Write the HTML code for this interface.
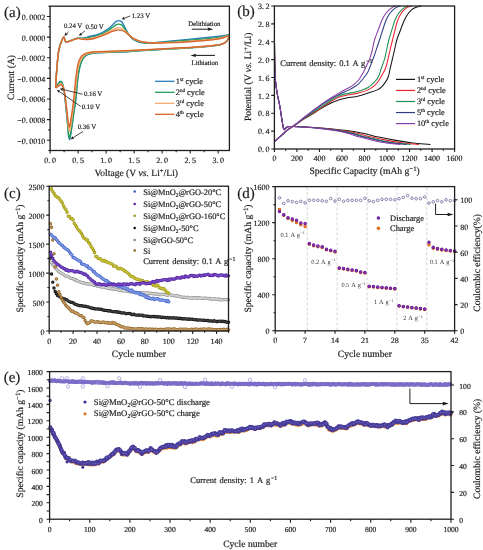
<!DOCTYPE html>
<html><head><meta charset="utf-8"><style>
html,body{margin:0;padding:0;background:#fff;}
svg{display:block;will-change:transform;text-rendering:geometricPrecision;font-family:"Liberation Serif", serif;}
</style></head><body>
<svg width="483" height="550" viewBox="0 0 483 550">
<rect width="483" height="550" fill="#fff"/>
<text x="4" y="16.7" font-size="15" text-anchor="start" fill="#1c1c1c" stroke="#1c1c1c" stroke-width="0.18" >(a)</text>
<g fill="none" stroke-width="1.4" stroke-linejoin="round">
<path d="M55.6 88 C55.83 84 56.02 80.08 56.3 76 C56.59 71.75 56.91 67.15 57.3 63 C57.66 59.18 57.96 55.17 58.5 52 C58.92 49.54 59.43 47.45 60 45.5 C60.48 43.85 61.05 42.34 61.6 41 C62.06 39.89 62.56 38.71 63 38 C63.28 37.56 63.57 36.96 63.8 37 C64.09 37.04 64.25 38.14 64.5 38.8 C64.81 39.61 64.97 40.99 65.5 41.5 C65.89 41.88 66.42 42.02 67 42 C67.83 41.98 68.93 41.22 70 40.8 C71.24 40.32 72.76 39.76 74 39.3 C75.07 38.9 76.16 38.41 77 38.2 C77.58 38.06 77.96 38.01 78.5 38 C79.12 37.99 79.74 38.18 80.5 38.2 C81.5 38.22 82.69 38.22 84 38 C85.75 37.71 88.08 36.78 90 36.3 C91.74 35.86 93.35 35.65 95 35.2 C96.65 34.75 98.36 34.24 99.9 33.6 C101.35 33 102.61 32.29 104 31.5 C105.51 30.64 107.13 29.73 108.6 28.6 C110.14 27.41 111.68 25.75 113 24.5 C114.1 23.46 114.97 22.26 116 21.6 C116.84 21.06 117.71 20.62 118.6 20.6 C119.54 20.58 120.62 20.89 121.5 21.6 C122.77 22.62 123.7 25.05 124.8 27 C126.04 29.21 127.14 32.16 128.5 34.2 C129.64 35.92 130.85 37.47 132.2 38.6 C133.38 39.59 134.72 40.17 136 40.8 C137.22 41.4 138.33 41.94 139.7 42.3 C141.28 42.72 143.26 42.87 145 43 C146.69 43.13 148.05 43.17 150 43.1 C152.76 43 156.33 42.56 160 42.2 C164.5 41.76 169.77 41.13 175 40.6 C180.73 40.02 187.09 39.46 193 38.9 C198.75 38.36 204.83 37.82 210 37.3 C214.35 36.86 218.54 36.39 222 36 C224.65 35.71 228.25 34.32 229 35.2 C229.6 35.9 228.48 38.23 227.8 39.5 C227.13 40.75 226.2 41.94 225 42.8 C223.66 43.76 221.99 44.27 220 44.8 C217.27 45.52 213.78 45.78 210 46.2 C205.09 46.75 199.1 47.18 193 47.6 C185.91 48.09 177.3 48.48 170 48.9 C163.36 49.28 157.49 49.58 151 50 C144.17 50.44 136.92 51.11 130 51.5 C123.25 51.88 116.07 52.05 110 52.3 C104.92 52.51 99.02 52.65 96 52.9 C94.55 53.02 93.94 53.08 92.8 53.3 C91.46 53.55 89.82 53.87 88.5 54.4 C87.27 54.89 86.08 55.46 85.1 56.3 C84.1 57.15 83.31 58.29 82.6 59.5 C81.82 60.83 81.26 62.31 80.7 64 C80.02 66.05 79.47 68.64 79 71 C78.53 73.37 78.23 75.61 77.9 78.2 C77.52 81.21 77.23 84.57 76.9 88 C76.53 91.8 76.28 96.01 75.8 100 C75.32 104.01 74.58 108 74 112 C73.42 116 72.86 120.18 72.3 124 C71.79 127.49 71.32 131.17 70.8 134 C70.41 136.11 69.99 139.48 69.6 139.5 C69.33 139.51 69.03 138.11 68.8 137 C68.37 134.94 68.21 131.22 67.9 128 C67.54 124.29 67.18 120 66.8 116 C66.42 112 66.01 107.91 65.6 104 C65.21 100.25 64.89 96.31 64.4 93 C63.99 90.25 63.64 87.61 63 85.5 C62.5 83.87 61.97 81.66 61.2 81.3 C60.73 81.08 60.09 81.43 59.6 81.8 C58.92 82.31 58.42 83.54 57.8 84.5 C57.1 85.59 56.33 86.83 55.6 88" stroke="#2b7fc0"/>
<path d="M55.6 88 C55.83 84 56.02 80.08 56.3 76 C56.59 71.75 56.91 67.15 57.3 63 C57.66 59.18 57.96 55.17 58.5 52 C58.92 49.54 59.43 47.45 60 45.5 C60.48 43.85 61.05 42.34 61.6 41 C62.06 39.89 62.56 38.71 63 38 C63.28 37.56 63.57 36.96 63.8 37 C64.09 37.04 64.25 38.14 64.5 38.8 C64.81 39.61 64.97 40.99 65.5 41.5 C65.89 41.88 66.42 42.01 67 42 C67.83 41.98 68.93 41.27 70 40.88 C71.24 40.42 72.76 39.86 74 39.41 C75.07 39.03 76.16 38.55 77 38.35 C77.58 38.21 77.96 38.15 78.5 38.15 C79.12 38.16 79.74 38.4 80.5 38.47 C81.5 38.55 82.68 38.64 84 38.53 C85.74 38.39 88.09 37.78 90 37.4 C91.74 37.05 93.35 36.78 95 36.34 C96.65 35.9 98.36 35.39 99.9 34.78 C101.35 34.21 102.61 33.55 104 32.83 C105.5 32.06 107.11 31.23 108.6 30.27 C110.11 29.3 111.67 28.01 113 27.05 C114.09 26.25 114.99 25.36 116 24.87 C116.86 24.45 117.71 24.14 118.6 24.13 C119.54 24.13 120.58 24.36 121.5 24.94 C122.69 25.7 123.71 27.35 124.8 28.79 C126.05 30.44 127.19 32.72 128.5 34.35 C129.67 35.82 130.88 37.19 132.2 38.22 C133.39 39.15 134.72 39.77 136 40.38 C137.22 40.97 138.33 41.47 139.7 41.84 C141.29 42.28 143.25 42.51 145 42.7 C146.69 42.87 148.05 42.94 150 42.95 C152.76 42.96 156.33 42.73 160 42.5 C164.5 42.23 169.77 41.77 175 41.36 C180.73 40.91 187.09 40.4 193 39.89 C198.75 39.39 204.83 38.88 210 38.33 C214.35 37.86 218.55 37.44 222 36.87 C224.66 36.44 228.28 34.64 229 35.43 C229.56 36.03 228.46 38.28 227.8 39.5 C227.13 40.73 226.2 41.92 225 42.78 C223.66 43.74 221.99 44.25 220 44.78 C217.27 45.5 213.78 45.74 210 46.16 C205.09 46.7 199.1 47.14 193 47.56 C185.91 48.05 177.3 48.44 170 48.85 C163.36 49.23 157.49 49.53 151 49.94 C144.17 50.37 136.92 51.01 130 51.39 C123.25 51.76 116.07 51.95 110 52.2 C104.92 52.41 99.02 52.55 96 52.79 C94.55 52.91 93.94 52.96 92.8 53.17 C91.47 53.41 89.82 53.72 88.5 54.22 C87.27 54.69 86.08 55.23 85.1 56.03 C84.11 56.84 83.31 57.92 82.6 59.08 C81.82 60.34 81.26 61.74 80.7 63.35 C80.01 65.31 79.44 67.79 78.96 70.08 C78.47 72.41 78.17 74.65 77.83 77.22 C77.43 80.22 77.13 83.59 76.79 87.02 C76.42 90.79 76.16 94.95 75.69 98.91 C75.22 102.88 74.53 106.84 73.96 110.8 C73.4 114.74 72.85 118.84 72.3 122.6 C71.8 126.05 71.33 129.68 70.82 132.5 C70.44 134.62 70.05 138.02 69.64 138.05 C69.39 138.07 69.08 136.95 68.86 136.02 C68.42 134.2 68.28 130.7 67.98 127.7 C67.63 124.18 67.27 120.06 66.89 116.2 C66.51 112.29 66.11 108.25 65.7 104.4 C65.31 100.69 64.98 96.78 64.5 93.5 C64.1 90.77 63.75 88.16 63.12 86.05 C62.63 84.41 62.14 82.25 61.36 81.82 C60.9 81.57 60.25 81.79 59.76 82.1 C59.09 82.52 58.59 83.69 57.98 84.58 C57.29 85.59 56.54 86.76 55.82 87.85" stroke="#1f9e5a"/>
<path d="M55.6 88 C55.83 84 56.02 80.08 56.3 76 C56.59 71.75 56.91 67.15 57.3 63 C57.66 59.18 57.96 55.17 58.5 52 C58.92 49.54 59.43 47.45 60 45.5 C60.48 43.85 61.05 42.34 61.6 41 C62.06 39.89 62.56 38.71 63 38 C63.28 37.56 63.57 36.96 63.8 37 C64.09 37.04 64.25 38.14 64.5 38.8 C64.81 39.61 64.97 40.99 65.5 41.5 C65.89 41.88 66.42 42 67 42 C67.83 41.99 68.93 41.33 70 40.95 C71.24 40.52 72.76 39.96 74 39.53 C75.07 39.15 76.16 38.7 77 38.5 C77.58 38.37 77.97 38.28 78.5 38.3 C79.12 38.33 79.74 38.61 80.5 38.73 C81.5 38.89 82.68 39.06 84 39.06 C85.73 39.07 88.1 38.79 90 38.5 C91.75 38.24 93.35 37.9 95 37.48 C96.65 37.05 98.35 36.53 99.9 35.96 C101.34 35.42 102.6 34.8 104 34.16 C105.5 33.47 107.09 32.71 108.6 31.94 C110.09 31.19 111.67 30.27 113 29.59 C114.09 29.04 115.01 28.46 116 28.14 C116.88 27.85 117.71 27.65 118.6 27.67 C119.54 27.68 120.54 27.87 121.5 28.29 C122.61 28.77 123.72 29.64 124.8 30.57 C126.06 31.65 127.24 33.27 128.5 34.5 C129.71 35.69 130.9 36.91 132.2 37.84 C133.41 38.71 134.72 39.36 136 39.96 C137.22 40.54 138.34 41 139.7 41.39 C141.29 41.84 143.25 42.16 145 42.39 C146.68 42.62 148.05 42.72 150 42.8 C152.76 42.91 156.33 42.89 160 42.81 C164.5 42.71 169.77 42.42 175 42.12 C180.73 41.79 187.09 41.35 193 40.88 C198.75 40.42 204.83 39.93 210 39.35 C214.35 38.87 218.56 38.49 222 37.75 C224.67 37.17 228.32 34.96 229 35.66 C229.51 36.17 228.45 38.34 227.8 39.5 C227.13 40.69 226.19 41.84 225 42.68 C223.66 43.63 221.99 44.16 220 44.68 C217.27 45.39 213.78 45.56 210 45.96 C205.09 46.48 199.1 46.94 193 47.36 C185.91 47.84 177.3 48.2 170 48.6 C163.36 48.96 157.49 49.28 151 49.64 C144.17 50.02 136.92 50.49 130 50.84 C123.25 51.18 116.07 51.45 110 51.7 C104.92 51.91 99.02 52.05 96 52.24 C94.56 52.33 93.94 52.36 92.8 52.52 C91.47 52.7 89.83 52.93 88.5 53.32 C87.28 53.67 86.1 54.05 85.1 54.68 C84.14 55.28 83.32 56.1 82.6 56.98 C81.85 57.9 81.28 58.89 80.7 60.1 C79.97 61.62 79.28 63.56 78.76 65.48 C78.18 67.6 77.87 69.83 77.48 72.32 C77.02 75.29 76.62 78.73 76.24 82.12 C75.83 85.76 75.55 89.68 75.14 93.46 C74.73 97.24 74.24 101.07 73.76 104.8 C73.29 108.45 72.79 112.13 72.3 115.6 C71.84 118.84 71.38 122.25 70.92 125 C70.56 127.17 70.4 130.07 69.84 130.8 C69.64 131.06 69.35 131.22 69.16 131.12 C68.67 130.86 68.64 128.09 68.38 126.2 C68.03 123.65 67.69 120.34 67.34 117.2 C66.96 113.76 66.59 109.97 66.2 106.4 C65.81 102.9 65.46 99.14 65 96 C64.62 93.37 64.27 90.88 63.72 88.8 C63.28 87.14 62.89 85.25 62.16 84.42 C61.71 83.9 61.08 83.54 60.56 83.6 C59.99 83.66 59.44 84.45 58.88 84.98 C58.23 85.59 57.57 86.39 56.92 87.1" stroke="#f6ab74"/>
<path d="M55.6 88 C55.83 84 56.02 80.08 56.3 76 C56.59 71.75 56.91 67.15 57.3 63 C57.66 59.18 57.96 55.17 58.5 52 C58.92 49.54 59.43 47.45 60 45.5 C60.48 43.85 61.05 42.34 61.6 41 C62.06 39.89 62.56 38.71 63 38 C63.28 37.56 63.57 36.96 63.8 37 C64.09 37.04 64.25 38.14 64.5 38.8 C64.81 39.61 64.97 40.99 65.5 41.5 C65.89 41.88 66.41 42 67 42 C67.83 42 68.93 41.37 70 41 C71.24 40.58 72.76 40.02 74 39.6 C75.07 39.23 76.16 38.79 77 38.6 C77.58 38.47 77.97 38.37 78.5 38.4 C79.12 38.43 79.74 38.75 80.5 38.9 C81.5 39.1 82.67 39.33 84 39.4 C85.73 39.49 88.1 39.42 90 39.2 C91.75 39 93.35 38.62 95 38.2 C96.65 37.78 98.35 37.26 99.9 36.7 C101.34 36.18 102.6 35.6 104 35 C105.49 34.37 107.08 33.64 108.6 33 C110.08 32.38 111.67 31.69 113 31.2 C114.09 30.8 115.02 30.42 116 30.2 C116.89 30 117.71 29.88 118.6 29.9 C119.54 29.93 120.52 30.12 121.5 30.4 C122.58 30.7 123.71 31.08 124.8 31.7 C126.05 32.42 127.27 33.62 128.5 34.6 C129.74 35.59 130.92 36.74 132.2 37.6 C133.42 38.42 134.72 39.11 136 39.7 C137.22 40.27 138.34 40.7 139.7 41.1 C141.29 41.56 143.25 41.93 145 42.2 C146.68 42.46 148.04 42.57 150 42.7 C152.76 42.88 156.33 42.99 160 43 C164.49 43.01 169.77 42.83 175 42.6 C180.73 42.35 187.09 41.94 193 41.5 C198.75 41.07 204.83 40.59 210 40 C214.35 39.5 218.57 39.15 222 38.3 C224.68 37.64 228.34 35.16 229 35.8 C229.48 36.26 228.45 38.38 227.8 39.5 C227.13 40.66 226.18 41.78 225 42.6 C223.66 43.54 221.99 44.09 220 44.6 C217.28 45.3 213.78 45.42 210 45.8 C205.08 46.3 199.1 46.79 193 47.2 C185.91 47.68 177.3 48.02 170 48.4 C163.36 48.75 157.49 49.07 151 49.4 C144.18 49.74 136.91 50.08 130 50.4 C123.25 50.71 116.07 51.05 110 51.3 C104.92 51.51 99.02 51.65 96 51.8 C94.56 51.87 93.94 51.88 92.8 52 C91.47 52.13 89.84 52.31 88.5 52.6 C87.29 52.86 86.11 53.12 85.1 53.6 C84.16 54.04 83.34 54.64 82.6 55.3 C81.88 55.95 81.29 56.6 80.7 57.5 C79.94 58.66 79.16 60.17 78.6 61.8 C77.94 63.73 77.63 65.98 77.2 68.4 C76.68 71.34 76.21 74.84 75.8 78.2 C75.37 81.73 75.07 85.47 74.7 89.1 C74.33 92.73 74.01 96.45 73.6 100 C73.21 103.41 72.75 106.76 72.3 110 C71.88 113.08 71.42 116.31 71 119 C70.66 121.2 70.33 123.5 70 125 C69.8 125.92 69.62 127.2 69.4 127.2 C69.18 127.2 68.92 125.95 68.7 125 C68.32 123.33 68.02 120.54 67.7 118 C67.32 114.97 66.98 111.33 66.6 108 C66.22 104.67 65.84 101.03 65.4 98 C65.03 95.45 64.7 93.06 64.2 91 C63.8 89.32 63.44 87.59 62.8 86.5 C62.35 85.73 61.79 84.95 61.2 84.8 C60.7 84.67 60.13 85.05 59.6 85.3 C59 85.59 58.43 86.08 57.8 86.5 C57.1 86.97 56.33 87.5 55.6 88" stroke="#d8662c"/>
</g>
<rect x="50.1" y="6.2" width="179.3" height="144.3" fill="none" stroke="#1e1e1e" stroke-width="1.3"/>
<path d="M50.1 150.5L50.1 153.5M64.11 150.5L64.11 152.3M78.12 150.5L78.12 153.5M92.12 150.5L92.12 152.3M106.13 150.5L106.13 153.5M120.14 150.5L120.14 152.3M134.15 150.5L134.15 153.5M148.15 150.5L148.15 152.3M162.16 150.5L162.16 153.5M176.17 150.5L176.17 152.3M190.18 150.5L190.18 153.5M204.19 150.5L204.19 152.3M218.19 150.5L218.19 153.5M50.1 150.5L48.3 150.5M50.1 140.19L46.9 140.19M50.1 129.89L48.3 129.89M50.1 119.58L46.9 119.58M50.1 109.27L48.3 109.27M50.1 98.96L46.9 98.96M50.1 88.66L48.3 88.66M50.1 78.35L46.9 78.35M50.1 68.04L48.3 68.04M50.1 57.74L46.9 57.74M50.1 47.43L48.3 47.43M50.1 37.12L46.9 37.12M50.1 26.81L48.3 26.81M50.1 16.51L46.9 16.51M50.1 6.2L48.3 6.2" stroke="#1e1e1e" stroke-width="1.1" fill="none"/>
<text x="50.1" y="162.5" font-size="8" text-anchor="middle" fill="#1c1c1c" stroke="#1c1c1c" stroke-width="0.18" >0.&#8201;0</text>
<text x="78.12" y="162.5" font-size="8" text-anchor="middle" fill="#1c1c1c" stroke="#1c1c1c" stroke-width="0.18" >0.&#8201;5</text>
<text x="106.13" y="162.5" font-size="8" text-anchor="middle" fill="#1c1c1c" stroke="#1c1c1c" stroke-width="0.18" >1.&#8201;0</text>
<text x="134.15" y="162.5" font-size="8" text-anchor="middle" fill="#1c1c1c" stroke="#1c1c1c" stroke-width="0.18" >1.&#8201;5</text>
<text x="162.16" y="162.5" font-size="8" text-anchor="middle" fill="#1c1c1c" stroke="#1c1c1c" stroke-width="0.18" >2.&#8201;0</text>
<text x="190.18" y="162.5" font-size="8" text-anchor="middle" fill="#1c1c1c" stroke="#1c1c1c" stroke-width="0.18" >2.&#8201;5</text>
<text x="218.19" y="162.5" font-size="8" text-anchor="middle" fill="#1c1c1c" stroke="#1c1c1c" stroke-width="0.18" >3.&#8201;0</text>
<text x="45.3" y="20.01" font-size="8" text-anchor="end" fill="#1c1c1c" stroke="#1c1c1c" stroke-width="0.18" >0.&#8201;0002</text>
<text x="45.3" y="40.62" font-size="8" text-anchor="end" fill="#1c1c1c" stroke="#1c1c1c" stroke-width="0.18" >0.&#8201;0000</text>
<text x="45.3" y="61.24" font-size="8" text-anchor="end" fill="#1c1c1c" stroke="#1c1c1c" stroke-width="0.18" >&#8722;0.&#8201;0002</text>
<text x="45.3" y="81.85" font-size="8" text-anchor="end" fill="#1c1c1c" stroke="#1c1c1c" stroke-width="0.18" >&#8722;0.&#8201;0004</text>
<text x="45.3" y="102.46" font-size="8" text-anchor="end" fill="#1c1c1c" stroke="#1c1c1c" stroke-width="0.18" >&#8722;0.&#8201;0006</text>
<text x="45.3" y="123.08" font-size="8" text-anchor="end" fill="#1c1c1c" stroke="#1c1c1c" stroke-width="0.18" >&#8722;0.&#8201;0008</text>
<text x="45.3" y="143.69" font-size="8" text-anchor="end" fill="#1c1c1c" stroke="#1c1c1c" stroke-width="0.18" >&#8722;0.&#8201;0010</text>
<text x="136.3" y="176.3" font-size="9.6" text-anchor="middle" fill="#1c1c1c" stroke="#1c1c1c" stroke-width="0.18" >Voltage (V <tspan font-style="italic">vs.</tspan> Li<tspan dy="-3" font-size="0.7em">+</tspan><tspan dy="3">/Li)</tspan></text>
<text x="0" y="0" font-size="9.6" text-anchor="middle" fill="#1c1c1c" stroke="#1c1c1c" stroke-width="0.18" transform="translate(13.8 77.5) rotate(-90)">Current (A)</text>
<text x="63.9" y="28" font-size="6.8" text-anchor="start" fill="#1c1c1c" stroke="#1c1c1c" stroke-width="0.18" >0.24 V</text>
<text x="85.4" y="28.9" font-size="6.8" text-anchor="start" fill="#1c1c1c" stroke="#1c1c1c" stroke-width="0.18" >0.50 V</text>
<text x="131.7" y="17.5" font-size="6.8" text-anchor="start" fill="#1c1c1c" stroke="#1c1c1c" stroke-width="0.18" >1.23 V</text>
<text x="83.9" y="96.1" font-size="6.8" text-anchor="start" fill="#1c1c1c" stroke="#1c1c1c" stroke-width="0.18" >0.16 V</text>
<text x="81.7" y="109.4" font-size="6.8" text-anchor="start" fill="#1c1c1c" stroke="#1c1c1c" stroke-width="0.18" >0.10 V</text>
<text x="77.7" y="129.2" font-size="6.8" text-anchor="start" fill="#1c1c1c" stroke="#1c1c1c" stroke-width="0.18" >0.36 V</text>
<text x="188.2" y="25.6" font-size="6.75" text-anchor="start" fill="#1c1c1c" stroke="#1c1c1c" stroke-width="0.18" >Delithiation</text>
<text x="191.6" y="64.8" font-size="6.75" text-anchor="start" fill="#1c1c1c" stroke="#1c1c1c" stroke-width="0.18" >Lithiation</text>
<path d="M68.5 31.9L66.64 33.62" stroke="#1e1e1e" stroke-width="0.8"/>
<path d="M64.3 35.8L65.62 32.52L67.67 34.72Z" fill="#1e1e1e"/>
<path d="M85 30.9L81.31 33.82" stroke="#1e1e1e" stroke-width="0.8"/>
<path d="M78.8 35.8L80.38 32.64L82.24 34.99Z" fill="#1e1e1e"/>
<path d="M130.4 15.9L124.5 18.09" stroke="#1e1e1e" stroke-width="0.8"/>
<path d="M121.5 19.2L123.98 16.68L125.02 19.49Z" fill="#1e1e1e"/>
<path d="M82.6 94.2L62.91 89.54" stroke="#1e1e1e" stroke-width="0.8"/>
<path d="M59.8 88.8L63.26 88.08L62.57 91Z" fill="#1e1e1e"/>
<path d="M80.8 106.5L59.43 91.63" stroke="#1e1e1e" stroke-width="0.8"/>
<path d="M56.8 89.8L60.28 90.4L58.57 92.86Z" fill="#1e1e1e"/>
<path d="M83 131.5L73.32 137.51" stroke="#1e1e1e" stroke-width="0.8"/>
<path d="M70.6 139.2L72.53 136.24L74.11 138.79Z" fill="#1e1e1e"/>
<path d="M191.8 29.2L207.8 29.2" stroke="#1e1e1e" stroke-width="1.05"/>
<path d="M213.3 29.2L207.8 30.8L207.8 27.6Z" fill="#1e1e1e"/>
<path d="M214.9 55.4L195.9 55.4" stroke="#1e1e1e" stroke-width="1.05"/>
<path d="M190.4 55.4L195.9 53.8L195.9 57Z" fill="#1e1e1e"/>
<path d="M155 81.3H174.5" stroke="#2b7fc0" stroke-width="1.3"/>
<text x="175.8" y="84" font-size="8.4" text-anchor="start" fill="#1c1c1c" stroke="#1c1c1c" stroke-width="0.18" >1<tspan dy="-3" font-size="5">st</tspan><tspan dy="3"> cycle</tspan></text>
<path d="M155 92.3H174.5" stroke="#1f9e5a" stroke-width="1.3"/>
<text x="175.8" y="95" font-size="8.4" text-anchor="start" fill="#1c1c1c" stroke="#1c1c1c" stroke-width="0.18" >2<tspan dy="-3" font-size="5">nd</tspan><tspan dy="3"> cycle</tspan></text>
<path d="M155 103.3H174.5" stroke="#f6ab74" stroke-width="1.3"/>
<text x="175.8" y="106" font-size="8.4" text-anchor="start" fill="#1c1c1c" stroke="#1c1c1c" stroke-width="0.18" >3<tspan dy="-3" font-size="5">rd</tspan><tspan dy="3"> cycle</tspan></text>
<path d="M155 114.3H174.5" stroke="#d8662c" stroke-width="1.3"/>
<text x="175.8" y="117" font-size="8.4" text-anchor="start" fill="#1c1c1c" stroke="#1c1c1c" stroke-width="0.18" >4<tspan dy="-3" font-size="5">th</tspan><tspan dy="3"> cycle</tspan></text>
<text x="237.3" y="16.1" font-size="15" text-anchor="start" fill="#1c1c1c" stroke="#1c1c1c" stroke-width="0.18" >(b)</text>
<g fill="none" stroke-width="1.05" stroke-linejoin="round" stroke-linecap="round">
<path d="M274.5 42.5 C274.57 48.33 274.56 53.97 274.7 60 C274.85 66.45 274.91 74.06 275.4 80 C275.8 84.81 276.37 88.66 277.1 93 C277.84 97.4 278.96 101.56 279.8 106.2 C280.73 111.34 281.57 118.19 282.4 122.5 C282.95 125.36 283.17 129.33 284 129.6 C284.45 129.75 285.02 128.66 285.6 128.2 C286.24 127.69 286.78 127 287.7 126.7 C289.02 126.26 290.73 126.58 293 126.6 C297.08 126.63 304.43 126.9 310.14 127.21 C315.85 127.52 321.57 127.96 327.27 128.46 C332.99 128.97 338.71 129.51 344.41 130.26 C350.13 131.01 355.86 131.83 361.55 132.96 C367.29 134.1 372.96 135.83 378.69 137.07 C384.39 138.31 390.1 139.42 395.83 140.39 C401.53 141.36 407.24 142.24 412.96 142.91 C418.67 143.58 424.39 143.9 430.1 144.4" stroke="#151515"/>
<path d="M274.6 141.5 C276.8 139.53 279 137.54 281.2 135.6 C283.37 133.68 285.46 131.6 287.7 129.9 C289.84 128.28 291.84 127.23 294.3 125.6 C297.44 123.52 301.35 120.73 305 118.4 C308.71 116.03 312.67 113.77 316.4 111.5 C320 109.31 323.21 106.94 327 105 C331.04 102.94 335.2 101.06 340 99.6 C345.57 97.91 353.47 97.17 358.6 95.9 C362.29 94.99 364.89 94.1 368 93.1 C371.12 92.1 374.81 91.18 377.3 89.9 C379.19 88.93 380.53 87.91 381.9 86.6 C383.31 85.25 384.54 83.5 385.6 81.9 C386.59 80.4 387.39 79.16 388.1 77.3 C389.06 74.77 389.56 71.02 390.3 67.9 C391.03 64.79 391.77 61.73 392.5 58.6 C393.24 55.43 393.97 52.15 394.7 49 C395.41 45.95 395.88 43.05 396.8 40 C397.78 36.72 399.25 33.29 400.5 30 C401.72 26.79 402.91 23.27 404.2 20.5 C405.26 18.23 406.29 16.27 407.5 14.5 C408.58 12.92 409.65 11.46 411 10.3 C412.32 9.17 413.88 8.31 415.5 7.6 C417.17 6.86 419.1 6.53 420.9 6" stroke="#151515"/>
<path d="M274.5 42.5 C274.57 48.33 274.56 53.97 274.7 60 C274.85 66.45 274.91 74.06 275.4 80 C275.8 84.81 276.37 88.66 277.1 93 C277.84 97.4 278.96 101.56 279.8 106.2 C280.73 111.34 281.57 118.19 282.4 122.5 C282.95 125.36 283.17 129.33 284 129.6 C284.45 129.75 285.02 128.66 285.6 128.2 C286.24 127.69 286.78 127 287.7 126.7 C289.02 126.26 290.77 126.58 293 126.6 C296.85 126.64 303.48 126.9 308.71 127.21 C313.95 127.52 319.19 127.96 324.43 128.46 C329.67 128.97 334.91 129.51 340.14 130.26 C345.39 131.01 350.64 131.83 355.85 132.96 C361.11 134.1 366.31 135.83 371.56 137.07 C376.79 138.31 382.03 139.42 387.27 140.39 C392.5 141.36 397.74 142.24 402.99 142.91 C408.21 143.57 413.46 143.9 418.7 144.4" stroke="#ee2230"/>
<path d="M274.6 141.5 C276.8 139.53 279 137.54 281.2 135.6 C283.37 133.68 285.47 131.61 287.7 129.9 C289.84 128.26 291.85 127.18 294.3 125.5 C297.45 123.35 301.34 120.4 305 118 C308.7 115.57 312.69 113.36 316.4 111 C320.02 108.7 323.24 106.28 327 104 C331.07 101.54 335.12 98.59 340 96.8 C345.51 94.78 353.48 94.47 358.6 93.1 C362.3 92.11 365.23 91.26 368 89.9 C370.45 88.7 372.68 87.19 374.5 85.6 C376.11 84.19 377.28 82.7 378.5 81 C379.8 79.19 380.85 77.09 382 75 C383.22 72.77 384.61 70.56 385.6 68 C386.7 65.15 387.32 61.76 388.1 58.6 C388.89 55.42 389.56 52.15 390.3 49 C391.02 45.95 391.74 43.08 392.5 40 C393.3 36.75 394.14 33.29 395 30 C395.84 26.79 396.56 23.26 397.6 20.5 C398.45 18.23 399.44 16.28 400.5 14.5 C401.43 12.93 402.36 11.48 403.5 10.3 C404.55 9.21 405.74 8.32 407 7.6 C408.24 6.89 409.67 6.53 411 6" stroke="#ee2230"/>
<path d="M274.5 42.5 C274.57 48.33 274.56 53.97 274.7 60 C274.85 66.45 274.91 74.06 275.4 80 C275.8 84.81 276.37 88.66 277.1 93 C277.84 97.4 278.96 101.56 279.8 106.2 C280.73 111.34 281.57 118.19 282.4 122.5 C282.95 125.36 283.17 129.33 284 129.6 C284.45 129.75 285.02 128.66 285.6 128.2 C286.24 127.69 286.78 127 287.7 126.7 C289.02 126.26 290.79 126.58 293 126.6 C296.67 126.64 302.79 126.9 307.68 127.21 C312.57 127.52 317.46 127.96 322.35 128.46 C327.25 128.97 332.14 129.51 337.02 130.26 C341.93 131.01 346.83 131.83 351.7 132.96 C356.62 134.1 361.47 135.83 366.38 137.07 C371.25 138.31 376.15 139.42 381.05 140.39 C385.93 141.36 390.82 142.24 395.72 142.91 C400.61 143.57 405.51 143.9 410.4 144.4" stroke="#1e9050"/>
<path d="M274.6 141.5 C276.8 139.53 279.01 137.56 281.2 135.6 C283.37 133.66 285.46 131.53 287.7 129.8 C289.84 128.15 291.86 127.11 294.3 125.4 C297.46 123.18 301.34 120.05 305 117.5 C308.71 114.92 312.67 112.46 316.4 110 C320 107.63 323.25 105.32 327 103 C331.08 100.48 335.12 97.42 340 95.5 C345.5 93.33 353.5 92.79 358.6 91.2 C362.31 90.05 365.51 88.95 368 87.5 C369.91 86.39 371.26 85.05 372.6 83.8 C373.78 82.71 374.75 81.61 375.7 80.5 C376.6 79.45 377.42 78.73 378.2 77.3 C379.41 75.08 380.32 71.11 381.4 68 C382.49 64.87 383.8 61.78 384.7 58.6 C385.6 55.44 386.11 52.15 386.8 49 C387.47 45.95 388 43.06 388.8 40 C389.65 36.74 390.79 33.29 391.8 30 C392.79 26.79 393.68 23.27 394.8 20.5 C395.72 18.23 396.68 16.27 397.8 14.5 C398.8 12.92 399.92 11.49 401.1 10.3 C402.17 9.23 403.32 8.33 404.5 7.6 C405.6 6.92 406.77 6.53 407.9 6" stroke="#1e9050"/>
<path d="M274.5 42.5 C274.57 48.33 274.56 53.97 274.7 60 C274.85 66.45 274.91 74.06 275.4 80 C275.8 84.81 276.37 88.66 277.1 93 C277.84 97.4 278.96 101.56 279.8 106.2 C280.73 111.34 281.57 118.19 282.4 122.5 C282.95 125.36 283.17 129.33 284 129.6 C284.45 129.75 285.02 128.66 285.6 128.2 C286.24 127.69 286.78 127 287.7 126.7 C289.02 126.26 290.81 126.57 293 126.6 C296.58 126.64 302.45 126.9 307.16 127.21 C311.89 127.52 316.61 127.96 321.32 128.46 C326.05 128.97 330.78 129.51 335.49 130.26 C340.22 131.01 344.96 131.83 349.65 132.96 C354.4 134.1 359.08 135.83 363.81 137.07 C368.52 138.3 373.24 139.42 377.98 140.39 C382.68 141.36 387.4 142.24 392.14 142.91 C396.85 143.57 401.58 143.9 406.3 144.4" stroke="#2d3d80"/>
<path d="M274.6 141.5 C276.8 139.53 279.01 137.56 281.2 135.6 C283.37 133.66 285.47 131.55 287.7 129.8 C289.84 128.13 291.87 127.07 294.3 125.3 C297.47 122.99 301.36 119.75 305 117 C308.72 114.19 312.65 111.27 316.4 108.6 C319.98 106.05 323.23 103.65 327 101.3 C331.06 98.77 335.98 96.01 340 94 C343.32 92.34 346.68 91.25 349.3 89.9 C351.32 88.86 352.89 87.86 354.5 86.8 C355.97 85.83 357.39 84.89 358.6 83.8 C359.74 82.78 360.65 81.6 361.6 80.5 C362.51 79.44 363.28 78.54 364.2 77.3 C365.38 75.71 366.85 73.87 368 71.7 C369.4 69.06 370.56 65.33 371.7 62.4 C372.71 59.8 373.64 57.44 374.5 55 C375.33 52.64 376 50.41 376.8 48 C377.66 45.42 378.57 42.82 379.5 40 C380.53 36.86 381.62 33.29 382.7 30 C383.75 26.79 384.73 23.27 385.9 20.5 C386.86 18.23 387.84 16.27 389 14.5 C390.03 12.92 391.17 11.48 392.4 10.3 C393.52 9.22 394.74 8.32 396 7.6 C397.21 6.91 398.53 6.53 399.8 6" stroke="#2d3d80"/>
<path d="M274.5 42.5 C274.57 48.33 274.56 53.97 274.7 60 C274.85 66.45 274.91 74.06 275.4 80 C275.8 84.81 276.37 88.66 277.1 93 C277.84 97.4 278.96 101.56 279.8 106.2 C280.73 111.34 281.57 118.19 282.4 122.5 C282.95 125.36 283.17 129.33 284 129.6 C284.45 129.75 285.02 128.66 285.6 128.2 C286.24 127.69 286.78 127 287.7 126.7 C289.02 126.26 290.83 126.57 293 126.6 C296.45 126.65 301.92 126.9 306.38 127.21 C310.84 127.52 315.3 127.96 319.75 128.46 C324.21 128.97 328.68 129.51 333.12 130.26 C337.6 131.01 342.07 131.84 346.5 132.96 C350.99 134.1 355.4 135.83 359.88 137.07 C364.32 138.3 368.78 139.42 373.25 140.39 C377.69 141.36 382.15 142.24 386.62 142.91 C391.07 143.57 395.54 143.9 400 144.4" stroke="#8a3da8"/>
<path d="M274.6 141.5 C276.8 139.53 279.01 137.57 281.2 135.6 C283.38 133.64 285.46 131.46 287.7 129.7 C289.83 128.02 291.87 127 294.3 125.2 C297.48 122.84 301.36 119.47 305 116.6 C308.73 113.67 312.64 110.56 316.4 107.8 C319.97 105.18 323.25 102.86 327 100.4 C331.08 97.73 335.99 94.68 340 92.4 C343.32 90.5 346.75 89.01 349.3 87.5 C351.16 86.4 352.49 85.6 354 84.4 C355.6 83.12 357.31 81.54 358.6 80 C359.77 78.6 360.58 77.13 361.5 75.6 C362.45 74.03 363.31 72.44 364.2 70.7 C365.18 68.77 366.15 66.54 367.1 64.5 C368.02 62.51 368.99 60.78 369.8 58.6 C370.75 56.03 371.54 52.99 372.3 50 C373.11 46.81 373.53 43.3 374.5 40 C375.49 36.63 376.97 33.29 378.2 30 C379.4 26.79 380.54 23.27 381.8 20.5 C382.83 18.23 383.79 16.26 385 14.5 C386.09 12.91 387.36 11.5 388.6 10.3 C389.7 9.24 390.81 8.33 392 7.6 C393.12 6.91 394.33 6.53 395.5 6" stroke="#8a3da8"/>
</g>
<rect x="274.4" y="6" width="180.2" height="143" fill="none" stroke="#1e1e1e" stroke-width="1.3"/>
<path d="M274.4 149L274.4 152M285.66 149L285.66 150.8M296.92 149L296.92 152M308.19 149L308.19 150.8M319.45 149L319.45 152M330.71 149L330.71 150.8M341.98 149L341.98 152M353.24 149L353.24 150.8M364.5 149L364.5 152M375.76 149L375.76 150.8M387.03 149L387.03 152M398.29 149L398.29 150.8M409.55 149L409.55 152M420.81 149L420.81 150.8M432.08 149L432.08 152M443.34 149L443.34 150.8M454.6 149L454.6 152M274.4 149L271.2 149M274.4 131.12L271.2 131.12M274.4 113.25L271.2 113.25M274.4 95.38L271.2 95.38M274.4 77.5L271.2 77.5M274.4 59.62L271.2 59.62M274.4 41.75L271.2 41.75M274.4 23.88L271.2 23.88M274.4 6L271.2 6" stroke="#1e1e1e" stroke-width="1.1" fill="none"/>
<text x="274.4" y="160.5" font-size="8" text-anchor="middle" fill="#1c1c1c" stroke="#1c1c1c" stroke-width="0.18" >0</text>
<text x="296.92" y="160.5" font-size="8" text-anchor="middle" fill="#1c1c1c" stroke="#1c1c1c" stroke-width="0.18" >200</text>
<text x="319.45" y="160.5" font-size="8" text-anchor="middle" fill="#1c1c1c" stroke="#1c1c1c" stroke-width="0.18" >400</text>
<text x="341.98" y="160.5" font-size="8" text-anchor="middle" fill="#1c1c1c" stroke="#1c1c1c" stroke-width="0.18" >600</text>
<text x="364.5" y="160.5" font-size="8" text-anchor="middle" fill="#1c1c1c" stroke="#1c1c1c" stroke-width="0.18" >800</text>
<text x="387.03" y="160.5" font-size="8" text-anchor="middle" fill="#1c1c1c" stroke="#1c1c1c" stroke-width="0.18" >1000</text>
<text x="409.55" y="160.5" font-size="8" text-anchor="middle" fill="#1c1c1c" stroke="#1c1c1c" stroke-width="0.18" >1200</text>
<text x="432.08" y="160.5" font-size="8" text-anchor="middle" fill="#1c1c1c" stroke="#1c1c1c" stroke-width="0.18" >1400</text>
<text x="454.6" y="160.5" font-size="8" text-anchor="middle" fill="#1c1c1c" stroke="#1c1c1c" stroke-width="0.18" >1600</text>
<text x="269.5" y="152.2" font-size="8" text-anchor="end" fill="#1c1c1c" stroke="#1c1c1c" stroke-width="0.18" >0.&#8201;0</text>
<text x="269.5" y="134.32" font-size="8" text-anchor="end" fill="#1c1c1c" stroke="#1c1c1c" stroke-width="0.18" >0.&#8201;4</text>
<text x="269.5" y="116.45" font-size="8" text-anchor="end" fill="#1c1c1c" stroke="#1c1c1c" stroke-width="0.18" >0.&#8201;8</text>
<text x="269.5" y="98.58" font-size="8" text-anchor="end" fill="#1c1c1c" stroke="#1c1c1c" stroke-width="0.18" >1.&#8201;2</text>
<text x="269.5" y="80.7" font-size="8" text-anchor="end" fill="#1c1c1c" stroke="#1c1c1c" stroke-width="0.18" >1.&#8201;6</text>
<text x="269.5" y="62.83" font-size="8" text-anchor="end" fill="#1c1c1c" stroke="#1c1c1c" stroke-width="0.18" >2.&#8201;0</text>
<text x="269.5" y="44.95" font-size="8" text-anchor="end" fill="#1c1c1c" stroke="#1c1c1c" stroke-width="0.18" >2.&#8201;4</text>
<text x="269.5" y="27.07" font-size="8" text-anchor="end" fill="#1c1c1c" stroke="#1c1c1c" stroke-width="0.18" >2.&#8201;8</text>
<text x="269.5" y="9.2" font-size="8" text-anchor="end" fill="#1c1c1c" stroke="#1c1c1c" stroke-width="0.18" >3.&#8201;2</text>
<text x="364.6" y="174.4" font-size="9.6" text-anchor="middle" fill="#1c1c1c" stroke="#1c1c1c" stroke-width="0.18" >Specific Capacity (mAh g<tspan dy="-3" font-size="0.7em">&#8722;1</tspan><tspan dy="3">)</tspan></text>
<text x="0" y="0" font-size="9.6" text-anchor="middle" fill="#1c1c1c" stroke="#1c1c1c" stroke-width="0.18" transform="translate(250.6 76.8) rotate(-90)">Potential (V <tspan font-style="italic">vs.</tspan> Li<tspan dy="-3" font-size="0.7em">+</tspan><tspan dy="3">/Li)</tspan></text>
<text x="280.3" y="65.5" font-size="8.5" text-anchor="start" fill="#1c1c1c" stroke="#1c1c1c" stroke-width="0.18" word-spacing="0.9">Current density: 0.1 A g<tspan dx="0.8" dy="-3" font-size="0.7em">&#8722;1</tspan></text>
<path d="M395.9 79.4H415" stroke="#151515" stroke-width="1.2"/>
<text x="416.9" y="82.1" font-size="8.4" text-anchor="start" fill="#1c1c1c" stroke="#1c1c1c" stroke-width="0.18" >1<tspan dy="-3" font-size="5">st</tspan><tspan dy="3"> cycle</tspan></text>
<path d="M395.9 90.45H415" stroke="#ee2230" stroke-width="1.2"/>
<text x="416.9" y="93.15" font-size="8.4" text-anchor="start" fill="#1c1c1c" stroke="#1c1c1c" stroke-width="0.18" >2<tspan dy="-3" font-size="5">nd</tspan><tspan dy="3"> cycle</tspan></text>
<path d="M395.9 101.5H415" stroke="#1e9050" stroke-width="1.2"/>
<text x="416.9" y="104.2" font-size="8.4" text-anchor="start" fill="#1c1c1c" stroke="#1c1c1c" stroke-width="0.18" >3<tspan dy="-3" font-size="5">rd</tspan><tspan dy="3"> cycle</tspan></text>
<path d="M395.9 112.55H415" stroke="#2d3d80" stroke-width="1.2"/>
<text x="416.9" y="115.25" font-size="8.4" text-anchor="start" fill="#1c1c1c" stroke="#1c1c1c" stroke-width="0.18" >5<tspan dy="-3" font-size="5">th</tspan><tspan dy="3"> cycle</tspan></text>
<path d="M395.9 123.6H415" stroke="#8a3da8" stroke-width="1.2"/>
<text x="416.9" y="126.3" font-size="8.4" text-anchor="start" fill="#1c1c1c" stroke="#1c1c1c" stroke-width="0.18" >10<tspan dy="-3" font-size="5">th</tspan><tspan dy="3"> cycle</tspan></text>
<text x="4" y="197.7" font-size="15" text-anchor="start" fill="#1c1c1c" stroke="#1c1c1c" stroke-width="0.18" >(c)</text>
<path d="M50.4 261.86h0M51.59 262.68h0M52.79 264.68h0M53.98 265.83h0M55.18 267.75h0M56.37 269h0M57.57 270.13h0M58.76 271.84h0M59.96 272.18h0M61.15 273.2h0M62.35 273.62h0M63.54 274.35h0M64.74 275.33h0M65.93 276.21h0M67.13 276.14h0M68.33 276.71h0M69.52 277.53h0M70.72 278.28h0M71.91 278.47h0M73.11 278.82h0M74.3 279.78h0M75.5 279.53h0M76.69 280.74h0M77.89 280.9h0M79.08 281.39h0M80.28 281.98h0M81.47 282.4h0M82.67 283.07h0M83.86 282.82h0M85.06 283.4h0M86.26 283.71h0M87.45 283.76h0M88.65 284.16h0M89.84 284.03h0M91.04 284.29h0M92.23 284.67h0M93.43 285.31h0M94.62 285.37h0M95.82 285.54h0M97.01 286.02h0M98.21 286.16h0M99.4 286.26h0M100.6 286.87h0M101.79 287.02h0M102.99 286.88h0M104.19 287.37h0M105.38 287.55h0M106.58 288.05h0M107.77 288.16h0M108.97 288.03h0M110.16 288.8h0M111.36 288.33h0M112.55 288.8h0M113.75 289.29h0M114.94 289.03h0M116.14 289.52h0M117.33 289.38h0M118.53 290.06h0M119.72 290.3h0M120.92 290.31h0M122.12 290.71h0M123.31 290.42h0M124.51 290.89h0M125.7 290.97h0M126.9 291.11h0M128.09 291.18h0M129.29 291.64h0M130.48 291.89h0M131.68 291.67h0M132.87 291.99h0M134.07 291.66h0M135.26 292.34h0M136.46 292.45h0M137.65 292.89h0M138.85 292.92h0M140.05 292.64h0M141.24 292.8h0M142.44 293.12h0M143.63 292.68h0M144.83 293.12h0M146.02 292.97h0M147.22 293.01h0M148.41 293.05h0M149.61 293.71h0M150.8 293.28h0M152 293.46h0M153.19 293.66h0M154.39 294.13h0M155.58 293.58h0M156.78 293.96h0M157.98 294.13h0M159.17 294.48h0M160.37 294.51h0M161.56 294.63h0M162.76 294.25h0M163.95 294.44h0M165.15 294.48h0M166.34 294.99h0M167.54 295.13h0M168.73 294.63h0M169.93 294.83h0M171.12 295.05h0M172.32 295.22h0M173.51 295.6h0M174.71 295.86h0M175.91 295.78h0M177.1 295.75h0M178.3 296.26h0M179.49 296.39h0M180.69 296.73h0M181.88 297.21h0M183.08 297.18h0M184.27 297.22h0M185.47 297.47h0M186.66 297.6h0M187.86 297.18h0M189.05 297.92h0M190.25 297.9h0M191.44 298.04h0M192.64 298.05h0M193.84 297.8h0M195.03 297.88h0M196.23 297.71h0M197.42 298.2h0M198.62 297.82h0M199.81 297.89h0M201.01 298.08h0M202.2 298.11h0M203.4 298.32h0M204.59 298.16h0M205.79 298.19h0M206.98 298.38h0M208.18 298.41h0M209.37 298.69h0M210.57 298.49h0M211.77 299.24h0M212.96 299.1h0M214.16 298.8h0M215.35 298.96h0M216.55 299.1h0M217.74 299.19h0M218.94 299.06h0M220.13 299.72h0M221.33 299.9h0M222.52 299.55h0M223.72 299.63h0M224.91 299.39h0M226.11 299.47h0M227.3 299.73h0M228.5 299.71h0" stroke="#8a8a8a" stroke-width="3.4" stroke-linecap="round" fill="none"/>
<path d="M50.4 261.86h0M51.59 262.68h0M52.79 264.68h0M53.98 265.83h0M55.18 267.75h0M56.37 269h0M57.57 270.13h0M58.76 271.84h0M59.96 272.18h0M61.15 273.2h0M62.35 273.62h0M63.54 274.35h0M64.74 275.33h0M65.93 276.21h0M67.13 276.14h0M68.33 276.71h0M69.52 277.53h0M70.72 278.28h0M71.91 278.47h0M73.11 278.82h0M74.3 279.78h0M75.5 279.53h0M76.69 280.74h0M77.89 280.9h0M79.08 281.39h0M80.28 281.98h0M81.47 282.4h0M82.67 283.07h0M83.86 282.82h0M85.06 283.4h0M86.26 283.71h0M87.45 283.76h0M88.65 284.16h0M89.84 284.03h0M91.04 284.29h0M92.23 284.67h0M93.43 285.31h0M94.62 285.37h0M95.82 285.54h0M97.01 286.02h0M98.21 286.16h0M99.4 286.26h0M100.6 286.87h0M101.79 287.02h0M102.99 286.88h0M104.19 287.37h0M105.38 287.55h0M106.58 288.05h0M107.77 288.16h0M108.97 288.03h0M110.16 288.8h0M111.36 288.33h0M112.55 288.8h0M113.75 289.29h0M114.94 289.03h0M116.14 289.52h0M117.33 289.38h0M118.53 290.06h0M119.72 290.3h0M120.92 290.31h0M122.12 290.71h0M123.31 290.42h0M124.51 290.89h0M125.7 290.97h0M126.9 291.11h0M128.09 291.18h0M129.29 291.64h0M130.48 291.89h0M131.68 291.67h0M132.87 291.99h0M134.07 291.66h0M135.26 292.34h0M136.46 292.45h0M137.65 292.89h0M138.85 292.92h0M140.05 292.64h0M141.24 292.8h0M142.44 293.12h0M143.63 292.68h0M144.83 293.12h0M146.02 292.97h0M147.22 293.01h0M148.41 293.05h0M149.61 293.71h0M150.8 293.28h0M152 293.46h0M153.19 293.66h0M154.39 294.13h0M155.58 293.58h0M156.78 293.96h0M157.98 294.13h0M159.17 294.48h0M160.37 294.51h0M161.56 294.63h0M162.76 294.25h0M163.95 294.44h0M165.15 294.48h0M166.34 294.99h0M167.54 295.13h0M168.73 294.63h0M169.93 294.83h0M171.12 295.05h0M172.32 295.22h0M173.51 295.6h0M174.71 295.86h0M175.91 295.78h0M177.1 295.75h0M178.3 296.26h0M179.49 296.39h0M180.69 296.73h0M181.88 297.21h0M183.08 297.18h0M184.27 297.22h0M185.47 297.47h0M186.66 297.6h0M187.86 297.18h0M189.05 297.92h0M190.25 297.9h0M191.44 298.04h0M192.64 298.05h0M193.84 297.8h0M195.03 297.88h0M196.23 297.71h0M197.42 298.2h0M198.62 297.82h0M199.81 297.89h0M201.01 298.08h0M202.2 298.11h0M203.4 298.32h0M204.59 298.16h0M205.79 298.19h0M206.98 298.38h0M208.18 298.41h0M209.37 298.69h0M210.57 298.49h0M211.77 299.24h0M212.96 299.1h0M214.16 298.8h0M215.35 298.96h0M216.55 299.1h0M217.74 299.19h0M218.94 299.06h0M220.13 299.72h0M221.33 299.9h0M222.52 299.55h0M223.72 299.63h0M224.91 299.39h0M226.11 299.47h0M227.3 299.73h0M228.5 299.71h0" stroke="#d0d0d0" stroke-width="2" stroke-linecap="round" fill="none"/>
<path d="M50.4 258.03h0M51.59 274.03h0M52.79 282.17h0M53.98 287.94h0M55.18 291.45h0M56.37 293.79h0M57.57 295.52h0M58.76 296.02h0M59.96 296.92h0M61.15 297.79h0M62.35 298.25h0M63.54 298.67h0M64.74 298.89h0M65.93 299.5h0M67.13 299.99h0M68.33 301.12h0M69.52 301.61h0M70.72 302.26h0M71.91 302.42h0M73.11 302.82h0M74.3 303.71h0M75.5 304.31h0M76.69 304.69h0M77.89 305.13h0M79.08 305.52h0M80.28 305.71h0M81.47 305.59h0M82.67 306.04h0M83.86 306.17h0M85.06 306.18h0M86.26 306.43h0M87.45 306.84h0M88.65 307.07h0M89.84 307.62h0M91.04 308.05h0M92.23 307.93h0M93.43 308.52h0M94.62 308.8h0M95.82 309.02h0M97.01 308.85h0M98.21 308.94h0M99.4 309.13h0M100.6 309.28h0M101.79 309.47h0M102.99 309.94h0M104.19 310.32h0M105.38 310.45h0M106.58 310.38h0M107.77 310.68h0M108.97 310.97h0M110.16 310.65h0M111.36 311.23h0M112.55 311.58h0M113.75 311.67h0M114.94 311.83h0M116.14 311.82h0M117.33 311.79h0M118.53 312.4h0M119.72 312.26h0M120.92 312.77h0M122.12 313.07h0M123.31 312.84h0M124.51 313.03h0M125.7 313.59h0M126.9 313.61h0M128.09 313.4h0M129.29 313.55h0M130.48 313.75h0M131.68 314.46h0M132.87 314.57h0M134.07 314.29h0M135.26 314.92h0M136.46 315.16h0M137.65 315.08h0M138.85 315h0M140.05 315.28h0M141.24 315.12h0M142.44 315.18h0M143.63 315.99h0M144.83 315.9h0M146.02 315.96h0M147.22 316.38h0M148.41 316.17h0M149.61 316.61h0M150.8 316.68h0M152 316.34h0M153.19 316.45h0M154.39 316.56h0M155.58 316.61h0M156.78 316.94h0M157.98 316.79h0M159.17 316.99h0M160.37 316.87h0M161.56 317.5h0M162.76 317.19h0M163.95 317.35h0M165.15 317.52h0M166.34 317.83h0M167.54 317.57h0M168.73 318h0M169.93 317.8h0M171.12 317.9h0M172.32 317.98h0M173.51 317.71h0M174.71 318.09h0M175.91 317.99h0M177.1 317.95h0M178.3 318.59h0M179.49 318.24h0M180.69 318.53h0M181.88 318.79h0M183.08 318.75h0M184.27 318.68h0M185.47 318.9h0M186.66 319.01h0M187.86 319.25h0M189.05 318.86h0M190.25 319.26h0M191.44 319.13h0M192.64 319.24h0M193.84 319.67h0M195.03 319.58h0M196.23 319.7h0M197.42 319.93h0M198.62 320.12h0M199.81 319.88h0M201.01 320.09h0M202.2 320.1h0M203.4 320.2h0M204.59 320.41h0M205.79 320.33h0M206.98 320.47h0M208.18 320.52h0M209.37 320.94h0M210.57 320.86h0M211.77 321.07h0M212.96 321.2h0M214.16 320.81h0M215.35 321.11h0M216.55 321.47h0M217.74 321.48h0M218.94 321.08h0M220.13 321.16h0M221.33 321.47h0M222.52 321.3h0M223.72 321.5h0M224.91 321.47h0M226.11 321.98h0M227.3 322.15h0M228.5 322.28h0" stroke="#0a0a0a" stroke-width="3.4" stroke-linecap="round" fill="none"/>
<path d="M50.4 258.03h0M51.59 274.03h0M52.79 282.17h0M53.98 287.94h0M55.18 291.45h0M56.37 293.79h0M57.57 295.52h0M58.76 296.02h0M59.96 296.92h0M61.15 297.79h0M62.35 298.25h0M63.54 298.67h0M64.74 298.89h0M65.93 299.5h0M67.13 299.99h0M68.33 301.12h0M69.52 301.61h0M70.72 302.26h0M71.91 302.42h0M73.11 302.82h0M74.3 303.71h0M75.5 304.31h0M76.69 304.69h0M77.89 305.13h0M79.08 305.52h0M80.28 305.71h0M81.47 305.59h0M82.67 306.04h0M83.86 306.17h0M85.06 306.18h0M86.26 306.43h0M87.45 306.84h0M88.65 307.07h0M89.84 307.62h0M91.04 308.05h0M92.23 307.93h0M93.43 308.52h0M94.62 308.8h0M95.82 309.02h0M97.01 308.85h0M98.21 308.94h0M99.4 309.13h0M100.6 309.28h0M101.79 309.47h0M102.99 309.94h0M104.19 310.32h0M105.38 310.45h0M106.58 310.38h0M107.77 310.68h0M108.97 310.97h0M110.16 310.65h0M111.36 311.23h0M112.55 311.58h0M113.75 311.67h0M114.94 311.83h0M116.14 311.82h0M117.33 311.79h0M118.53 312.4h0M119.72 312.26h0M120.92 312.77h0M122.12 313.07h0M123.31 312.84h0M124.51 313.03h0M125.7 313.59h0M126.9 313.61h0M128.09 313.4h0M129.29 313.55h0M130.48 313.75h0M131.68 314.46h0M132.87 314.57h0M134.07 314.29h0M135.26 314.92h0M136.46 315.16h0M137.65 315.08h0M138.85 315h0M140.05 315.28h0M141.24 315.12h0M142.44 315.18h0M143.63 315.99h0M144.83 315.9h0M146.02 315.96h0M147.22 316.38h0M148.41 316.17h0M149.61 316.61h0M150.8 316.68h0M152 316.34h0M153.19 316.45h0M154.39 316.56h0M155.58 316.61h0M156.78 316.94h0M157.98 316.79h0M159.17 316.99h0M160.37 316.87h0M161.56 317.5h0M162.76 317.19h0M163.95 317.35h0M165.15 317.52h0M166.34 317.83h0M167.54 317.57h0M168.73 318h0M169.93 317.8h0M171.12 317.9h0M172.32 317.98h0M173.51 317.71h0M174.71 318.09h0M175.91 317.99h0M177.1 317.95h0M178.3 318.59h0M179.49 318.24h0M180.69 318.53h0M181.88 318.79h0M183.08 318.75h0M184.27 318.68h0M185.47 318.9h0M186.66 319.01h0M187.86 319.25h0M189.05 318.86h0M190.25 319.26h0M191.44 319.13h0M192.64 319.24h0M193.84 319.67h0M195.03 319.58h0M196.23 319.7h0M197.42 319.93h0M198.62 320.12h0M199.81 319.88h0M201.01 320.09h0M202.2 320.1h0M203.4 320.2h0M204.59 320.41h0M205.79 320.33h0M206.98 320.47h0M208.18 320.52h0M209.37 320.94h0M210.57 320.86h0M211.77 321.07h0M212.96 321.2h0M214.16 320.81h0M215.35 321.11h0M216.55 321.47h0M217.74 321.48h0M218.94 321.08h0M220.13 321.16h0M221.33 321.47h0M222.52 321.3h0M223.72 321.5h0M224.91 321.47h0M226.11 321.98h0M227.3 322.15h0M228.5 322.28h0" stroke="#3a3a3a" stroke-width="2" stroke-linecap="round" fill="none"/>
<path d="M50.4 223.65h0M51.59 227.19h0M52.79 240.01h0M53.98 253.72h0M55.18 266.84h0M56.37 278.99h0M57.57 285.13h0M58.76 291.77h0M59.96 294.49h0M61.15 297.19h0M62.35 299.98h0M63.54 301.92h0M64.74 303.35h0M65.93 305.47h0M67.13 306.75h0M68.33 307.76h0M69.52 308.82h0M70.72 310.13h0M71.91 311.39h0M73.11 311.3h0M74.3 312.45h0M75.5 312.95h0M76.69 313.14h0M77.89 314.07h0M79.08 314.97h0M80.28 315.45h0M81.47 315.6h0M82.67 317.12h0M83.86 317.52h0M85.06 320.36h0M86.26 322.63h0M87.45 323.79h0M88.65 323.06h0M89.84 322.39h0M91.04 320.92h0M92.23 320.94h0M93.43 321.39h0M94.62 322.05h0M95.82 322.12h0M97.01 321.72h0M98.21 321.72h0M99.4 322.59h0M100.6 322.34h0M101.79 322.56h0M102.99 322.05h0M104.19 322.12h0M105.38 322.84h0M106.58 322.68h0M107.77 322.42h0M108.97 323.34h0M110.16 323.03h0M111.36 323.2h0M112.55 322.48h0M113.75 323.26h0M114.94 322.94h0M116.14 324.33h0M117.33 324.52h0M118.53 325h0M119.72 325.81h0M120.92 326.72h0M122.12 326.59h0M123.31 326.99h0M124.51 327.92h0M125.7 327.99h0M126.9 327.97h0M128.09 328.14h0M129.29 328.15h0M130.48 328.41h0M131.68 328.64h0M132.87 328.75h0M134.07 329.32h0M135.26 328.9h0M136.46 329.13h0M137.65 328.82h0M138.85 329h0M140.05 328.69h0M141.24 328.94h0M142.44 328.72h0M143.63 329.45h0M144.83 329.28h0M146.02 328.94h0M147.22 329.24h0M148.41 329.71h0M149.61 328.9h0M150.8 329.62h0M152 329.24h0M153.19 329.31h0M154.39 329.65h0M155.58 329.21h0M156.78 329.33h0M157.98 329.52h0M159.17 329.82h0M160.37 329.18h0M161.56 329.68h0M162.76 329.56h0M163.95 329.49h0M165.15 329.26h0M166.34 329.21h0M167.54 328.92h0M168.73 329h0M169.93 328.95h0M171.12 329.62h0M172.32 329.14h0M173.51 329.05h0M174.71 328.98h0M175.91 329.74h0M177.1 329.77h0M178.3 329.58h0M179.49 329.2h0M180.69 329.16h0M181.88 329.22h0M183.08 329.39h0M184.27 329.09h0M185.47 329.38h0M186.66 329.2h0M187.86 329.91h0M189.05 329.92h0M190.25 329.5h0M191.44 329.2h0M192.64 329.93h0M193.84 329.28h0M195.03 329.33h0M196.23 328.98h0M197.42 329.36h0M198.62 329.46h0M199.81 329.49h0M201.01 329.2h0M202.2 329.51h0M203.4 329.01h0M204.59 329.27h0M205.79 329.1h0M206.98 329.42h0M208.18 329.07h0M209.37 329.05h0M210.57 329.34h0M211.77 329.27h0M212.96 329.63h0M214.16 329.58h0M215.35 329.8h0M216.55 329.71h0M217.74 329.78h0M218.94 329.94h0M220.13 329.46h0M221.33 329.4h0M222.52 330.06h0M223.72 329.23h0M224.91 329.81h0M226.11 329.74h0M227.3 329.14h0M228.5 329.94h0" stroke="#8a5a1c" stroke-width="3.4" stroke-linecap="round" fill="none"/>
<path d="M50.4 223.65h0M51.59 227.19h0M52.79 240.01h0M53.98 253.72h0M55.18 266.84h0M56.37 278.99h0M57.57 285.13h0M58.76 291.77h0M59.96 294.49h0M61.15 297.19h0M62.35 299.98h0M63.54 301.92h0M64.74 303.35h0M65.93 305.47h0M67.13 306.75h0M68.33 307.76h0M69.52 308.82h0M70.72 310.13h0M71.91 311.39h0M73.11 311.3h0M74.3 312.45h0M75.5 312.95h0M76.69 313.14h0M77.89 314.07h0M79.08 314.97h0M80.28 315.45h0M81.47 315.6h0M82.67 317.12h0M83.86 317.52h0M85.06 320.36h0M86.26 322.63h0M87.45 323.79h0M88.65 323.06h0M89.84 322.39h0M91.04 320.92h0M92.23 320.94h0M93.43 321.39h0M94.62 322.05h0M95.82 322.12h0M97.01 321.72h0M98.21 321.72h0M99.4 322.59h0M100.6 322.34h0M101.79 322.56h0M102.99 322.05h0M104.19 322.12h0M105.38 322.84h0M106.58 322.68h0M107.77 322.42h0M108.97 323.34h0M110.16 323.03h0M111.36 323.2h0M112.55 322.48h0M113.75 323.26h0M114.94 322.94h0M116.14 324.33h0M117.33 324.52h0M118.53 325h0M119.72 325.81h0M120.92 326.72h0M122.12 326.59h0M123.31 326.99h0M124.51 327.92h0M125.7 327.99h0M126.9 327.97h0M128.09 328.14h0M129.29 328.15h0M130.48 328.41h0M131.68 328.64h0M132.87 328.75h0M134.07 329.32h0M135.26 328.9h0M136.46 329.13h0M137.65 328.82h0M138.85 329h0M140.05 328.69h0M141.24 328.94h0M142.44 328.72h0M143.63 329.45h0M144.83 329.28h0M146.02 328.94h0M147.22 329.24h0M148.41 329.71h0M149.61 328.9h0M150.8 329.62h0M152 329.24h0M153.19 329.31h0M154.39 329.65h0M155.58 329.21h0M156.78 329.33h0M157.98 329.52h0M159.17 329.82h0M160.37 329.18h0M161.56 329.68h0M162.76 329.56h0M163.95 329.49h0M165.15 329.26h0M166.34 329.21h0M167.54 328.92h0M168.73 329h0M169.93 328.95h0M171.12 329.62h0M172.32 329.14h0M173.51 329.05h0M174.71 328.98h0M175.91 329.74h0M177.1 329.77h0M178.3 329.58h0M179.49 329.2h0M180.69 329.16h0M181.88 329.22h0M183.08 329.39h0M184.27 329.09h0M185.47 329.38h0M186.66 329.2h0M187.86 329.91h0M189.05 329.92h0M190.25 329.5h0M191.44 329.2h0M192.64 329.93h0M193.84 329.28h0M195.03 329.33h0M196.23 328.98h0M197.42 329.36h0M198.62 329.46h0M199.81 329.49h0M201.01 329.2h0M202.2 329.51h0M203.4 329.01h0M204.59 329.27h0M205.79 329.1h0M206.98 329.42h0M208.18 329.07h0M209.37 329.05h0M210.57 329.34h0M211.77 329.27h0M212.96 329.63h0M214.16 329.58h0M215.35 329.8h0M216.55 329.71h0M217.74 329.78h0M218.94 329.94h0M220.13 329.46h0M221.33 329.4h0M222.52 330.06h0M223.72 329.23h0M224.91 329.81h0M226.11 329.74h0M227.3 329.14h0M228.5 329.94h0" stroke="#c09a60" stroke-width="2" stroke-linecap="round" fill="none"/>
<path d="M50.4 234.13h0M51.59 234.99h0M52.79 236.36h0M53.98 237.68h0M55.18 237.8h0M56.37 239.61h0M57.57 240.77h0M58.76 242.5h0M59.96 243.65h0M61.15 244.79h0M62.35 245.45h0M63.54 247h0M64.74 247.71h0M65.93 248.91h0M67.13 249.51h0M68.33 250.53h0M69.52 252.03h0M70.72 253.79h0M71.91 254.92h0M73.11 257.43h0M74.3 257.72h0M75.5 258.58h0M76.69 259.32h0M77.89 260.16h0M79.08 260.89h0M80.28 261.14h0M81.47 263.44h0M82.67 264.38h0M83.86 264.45h0M85.06 264.88h0M86.26 265.93h0M87.45 265.94h0M88.65 267.98h0M89.84 268.17h0M91.04 268.85h0M92.23 270.12h0M93.43 271.82h0M94.62 271.95h0M95.82 273.77h0M97.01 275.11h0M98.21 275.25h0M99.4 275.91h0M100.6 276.9h0M101.79 278.07h0M102.99 279.04h0M104.19 279.64h0M105.38 280.52h0M106.58 280.45h0M107.77 281.4h0M108.97 282.41h0M110.16 284.01h0M111.36 283.66h0M112.55 284.44h0M113.75 283.91h0M114.94 284.34h0M116.14 285.03h0M117.33 286.03h0M118.53 286.42h0M119.72 286.75h0M120.92 286.49h0M122.12 287.21h0M123.31 287.55h0M124.51 288h0M125.7 287.89h0M126.9 289.58h0M128.09 288.92h0M129.29 290.62h0M130.48 291h0M131.68 289.98h0M132.87 291.13h0M134.07 292.16h0M135.26 292.85h0M136.46 292.48h0M137.65 292.65h0M138.85 293.01h0M140.05 294.65h0M141.24 293.93h0M142.44 294.98h0M143.63 294.74h0M144.83 296.05h0M146.02 297.43h0M147.22 296.81h0M148.41 298.22h0M149.61 297.96h0M150.8 298.81h0M152 298.75h0M153.19 298.24h0M154.39 299.55h0M155.58 299.13h0M156.78 298.63h0M157.98 298.82h0M159.17 299.81h0M160.37 299.96h0M161.56 299.93h0M162.76 299.88h0M163.95 300.38h0M165.15 300.51h0M166.34 301.51h0M167.54 300.34h0M168.73 301.71h0" stroke="#3d5cc4" stroke-width="3.4" stroke-linecap="round" fill="none"/>
<path d="M50.4 234.13h0M51.59 234.99h0M52.79 236.36h0M53.98 237.68h0M55.18 237.8h0M56.37 239.61h0M57.57 240.77h0M58.76 242.5h0M59.96 243.65h0M61.15 244.79h0M62.35 245.45h0M63.54 247h0M64.74 247.71h0M65.93 248.91h0M67.13 249.51h0M68.33 250.53h0M69.52 252.03h0M70.72 253.79h0M71.91 254.92h0M73.11 257.43h0M74.3 257.72h0M75.5 258.58h0M76.69 259.32h0M77.89 260.16h0M79.08 260.89h0M80.28 261.14h0M81.47 263.44h0M82.67 264.38h0M83.86 264.45h0M85.06 264.88h0M86.26 265.93h0M87.45 265.94h0M88.65 267.98h0M89.84 268.17h0M91.04 268.85h0M92.23 270.12h0M93.43 271.82h0M94.62 271.95h0M95.82 273.77h0M97.01 275.11h0M98.21 275.25h0M99.4 275.91h0M100.6 276.9h0M101.79 278.07h0M102.99 279.04h0M104.19 279.64h0M105.38 280.52h0M106.58 280.45h0M107.77 281.4h0M108.97 282.41h0M110.16 284.01h0M111.36 283.66h0M112.55 284.44h0M113.75 283.91h0M114.94 284.34h0M116.14 285.03h0M117.33 286.03h0M118.53 286.42h0M119.72 286.75h0M120.92 286.49h0M122.12 287.21h0M123.31 287.55h0M124.51 288h0M125.7 287.89h0M126.9 289.58h0M128.09 288.92h0M129.29 290.62h0M130.48 291h0M131.68 289.98h0M132.87 291.13h0M134.07 292.16h0M135.26 292.85h0M136.46 292.48h0M137.65 292.65h0M138.85 293.01h0M140.05 294.65h0M141.24 293.93h0M142.44 294.98h0M143.63 294.74h0M144.83 296.05h0M146.02 297.43h0M147.22 296.81h0M148.41 298.22h0M149.61 297.96h0M150.8 298.81h0M152 298.75h0M153.19 298.24h0M154.39 299.55h0M155.58 299.13h0M156.78 298.63h0M157.98 298.82h0M159.17 299.81h0M160.37 299.96h0M161.56 299.93h0M162.76 299.88h0M163.95 300.38h0M165.15 300.51h0M166.34 301.51h0M167.54 300.34h0M168.73 301.71h0" stroke="#7b98e4" stroke-width="2" stroke-linecap="round" fill="none"/>
<path d="M50.4 189.11h0M51.59 188.76h0M52.79 191.6h0M53.98 193.28h0M55.18 195.64h0M56.37 196.49h0M57.57 197.53h0M58.76 198.07h0M59.96 199.87h0M61.15 201.19h0M62.35 202.87h0M63.54 205.91h0M64.74 208.09h0M65.93 209.74h0M67.13 212.21h0M68.33 216.3h0M69.52 216.5h0M70.72 218.6h0M71.91 218.46h0M73.11 220.06h0M74.3 223.56h0M75.5 225.17h0M76.69 226.89h0M77.89 229.33h0M79.08 230.55h0M80.28 231.74h0M81.47 233.4h0M82.67 235.91h0M83.86 237.97h0M85.06 238.55h0M86.26 240.05h0M87.45 240.04h0M88.65 242.46h0M89.84 243.72h0M91.04 246.27h0M92.23 248.08h0M93.43 250.02h0M94.62 252.56h0M95.82 256.48h0M97.01 256.81h0M98.21 258.6h0M99.4 258.73h0M100.6 259.01h0M101.79 260.16h0M102.99 261h0M104.19 260.3h0M105.38 261.61h0M106.58 261.56h0M107.77 262.61h0M108.97 262.91h0M110.16 263.09h0M111.36 263.68h0M112.55 264.35h0M113.75 266.21h0M114.94 266.08h0M116.14 266.18h0M117.33 268.02h0M118.53 268.79h0M119.72 268.41h0M120.92 268.45h0M122.12 269.15h0M123.31 269.7h0M124.51 270.95h0M125.7 271.3h0M126.9 272.36h0M128.09 273.19h0M129.29 274.55h0M130.48 275.92h0M131.68 276.46h0M132.87 276.65h0M134.07 277.44h0M135.26 278.43h0M136.46 278.96h0M137.65 279.57h0M138.85 279.37h0M140.05 280.06h0M141.24 281.6h0M142.44 280.39h0M143.63 281.36h0M144.83 281.89h0M146.02 282.61h0M147.22 281.74h0M148.41 282.28h0M149.61 282.69h0M150.8 283.43h0M152 283.97h0M153.19 285.34h0M154.39 285.61h0M155.58 286.11h0M156.78 285.04h0M157.98 285.6h0M159.17 287.43h0M160.37 288.37h0M161.56 288.22h0M162.76 289.03h0M163.95 288.68h0M165.15 290.11h0M166.34 291.81h0M167.54 292.35h0M168.73 293.13h0" stroke="#9c9410" stroke-width="3.4" stroke-linecap="round" fill="none"/>
<path d="M50.4 189.11h0M51.59 188.76h0M52.79 191.6h0M53.98 193.28h0M55.18 195.64h0M56.37 196.49h0M57.57 197.53h0M58.76 198.07h0M59.96 199.87h0M61.15 201.19h0M62.35 202.87h0M63.54 205.91h0M64.74 208.09h0M65.93 209.74h0M67.13 212.21h0M68.33 216.3h0M69.52 216.5h0M70.72 218.6h0M71.91 218.46h0M73.11 220.06h0M74.3 223.56h0M75.5 225.17h0M76.69 226.89h0M77.89 229.33h0M79.08 230.55h0M80.28 231.74h0M81.47 233.4h0M82.67 235.91h0M83.86 237.97h0M85.06 238.55h0M86.26 240.05h0M87.45 240.04h0M88.65 242.46h0M89.84 243.72h0M91.04 246.27h0M92.23 248.08h0M93.43 250.02h0M94.62 252.56h0M95.82 256.48h0M97.01 256.81h0M98.21 258.6h0M99.4 258.73h0M100.6 259.01h0M101.79 260.16h0M102.99 261h0M104.19 260.3h0M105.38 261.61h0M106.58 261.56h0M107.77 262.61h0M108.97 262.91h0M110.16 263.09h0M111.36 263.68h0M112.55 264.35h0M113.75 266.21h0M114.94 266.08h0M116.14 266.18h0M117.33 268.02h0M118.53 268.79h0M119.72 268.41h0M120.92 268.45h0M122.12 269.15h0M123.31 269.7h0M124.51 270.95h0M125.7 271.3h0M126.9 272.36h0M128.09 273.19h0M129.29 274.55h0M130.48 275.92h0M131.68 276.46h0M132.87 276.65h0M134.07 277.44h0M135.26 278.43h0M136.46 278.96h0M137.65 279.57h0M138.85 279.37h0M140.05 280.06h0M141.24 281.6h0M142.44 280.39h0M143.63 281.36h0M144.83 281.89h0M146.02 282.61h0M147.22 281.74h0M148.41 282.28h0M149.61 282.69h0M150.8 283.43h0M152 283.97h0M153.19 285.34h0M154.39 285.61h0M155.58 286.11h0M156.78 285.04h0M157.98 285.6h0M159.17 287.43h0M160.37 288.37h0M161.56 288.22h0M162.76 289.03h0M163.95 288.68h0M165.15 290.11h0M166.34 291.81h0M167.54 292.35h0M168.73 293.13h0" stroke="#c6be38" stroke-width="2" stroke-linecap="round" fill="none"/>
<path d="M50.4 252.16h0M51.59 255.27h0M52.79 258.31h0M53.98 260.79h0M55.18 262.16h0M56.37 263.25h0M57.57 264.47h0M58.76 265.07h0M59.96 265.88h0M61.15 266.96h0M62.35 267.44h0M63.54 268.48h0M64.74 268.68h0M65.93 270.19h0M67.13 269.69h0M68.33 270.93h0M69.52 270.82h0M70.72 270.62h0M71.91 270.63h0M73.11 270.98h0M74.3 271.69h0M75.5 271.96h0M76.69 271.32h0M77.89 271.44h0M79.08 272.25h0M80.28 272.51h0M81.47 272.82h0M82.67 273.18h0M83.86 274.3h0M85.06 274.06h0M86.26 275.06h0M87.45 275.87h0M88.65 277.59h0M89.84 278.34h0M91.04 279.87h0M92.23 280.5h0M93.43 281.36h0M94.62 282.28h0M95.82 283.93h0M97.01 284.22h0M98.21 284.06h0M99.4 283.72h0M100.6 284.44h0M101.79 284.75h0M102.99 284.46h0M104.19 284.29h0M105.38 284.92h0M106.58 285.34h0M107.77 284.41h0M108.97 284.1h0M110.16 284.49h0M111.36 284.56h0M112.55 284.89h0M113.75 284.17h0M114.94 284.97h0M116.14 284.85h0M117.33 284.48h0M118.53 284.02h0M119.72 285.05h0M120.92 284.09h0M122.12 284.76h0M123.31 283.91h0M124.51 283.88h0M125.7 284.61h0M126.9 283.94h0M128.09 284.84h0M129.29 284.19h0M130.48 283.73h0M131.68 283.77h0M132.87 284.02h0M134.07 284.35h0M135.26 284.71h0M136.46 283.49h0M137.65 283.74h0M138.85 283.39h0M140.05 284.36h0M141.24 283.1h0M142.44 282.87h0M143.63 282.79h0M144.83 283.16h0M146.02 283.77h0M147.22 283.65h0M148.41 283.22h0M149.61 283.35h0M150.8 283.02h0M152 281.93h0M153.19 281.49h0M154.39 282.3h0M155.58 281.79h0M156.78 280.55h0M157.98 281.25h0M159.17 280.7h0M160.37 280.55h0M161.56 280.35h0M162.76 279.97h0M163.95 279.6h0M165.15 279.84h0M166.34 279.79h0M167.54 280.49h0M168.73 279.14h0M169.93 280.11h0M171.12 278.84h0M172.32 278.84h0M173.51 279.28h0M174.71 279.07h0M175.91 278.31h0M177.1 277.57h0M178.3 277.95h0M179.49 277.6h0M180.69 278.15h0M181.88 276.93h0M183.08 276.95h0M184.27 277.49h0M185.47 276.07h0M186.66 276.49h0M187.86 276.95h0M189.05 276.79h0M190.25 275.67h0M191.44 275.56h0M192.64 275.5h0M193.84 276.6h0M195.03 275.58h0M196.23 276.16h0M197.42 276.28h0M198.62 275.39h0M199.81 275.2h0M201.01 276.06h0M202.2 275.49h0M203.4 274.89h0M204.59 275.43h0M205.79 274.77h0M206.98 274.61h0M208.18 274.13h0M209.37 275.19h0M210.57 275.46h0M211.77 275.1h0M212.96 275.58h0M214.16 274.34h0M215.35 274.67h0M216.55 275.05h0M217.74 275.77h0M218.94 275.81h0M220.13 275.06h0M221.33 274.91h0M222.52 275.21h0M223.72 275.34h0M224.91 275.99h0M226.11 274.99h0M227.3 275.9h0M228.5 275.83h0" stroke="#4a1c98" stroke-width="3.4" stroke-linecap="round" fill="none"/>
<path d="M50.4 252.16h0M51.59 255.27h0M52.79 258.31h0M53.98 260.79h0M55.18 262.16h0M56.37 263.25h0M57.57 264.47h0M58.76 265.07h0M59.96 265.88h0M61.15 266.96h0M62.35 267.44h0M63.54 268.48h0M64.74 268.68h0M65.93 270.19h0M67.13 269.69h0M68.33 270.93h0M69.52 270.82h0M70.72 270.62h0M71.91 270.63h0M73.11 270.98h0M74.3 271.69h0M75.5 271.96h0M76.69 271.32h0M77.89 271.44h0M79.08 272.25h0M80.28 272.51h0M81.47 272.82h0M82.67 273.18h0M83.86 274.3h0M85.06 274.06h0M86.26 275.06h0M87.45 275.87h0M88.65 277.59h0M89.84 278.34h0M91.04 279.87h0M92.23 280.5h0M93.43 281.36h0M94.62 282.28h0M95.82 283.93h0M97.01 284.22h0M98.21 284.06h0M99.4 283.72h0M100.6 284.44h0M101.79 284.75h0M102.99 284.46h0M104.19 284.29h0M105.38 284.92h0M106.58 285.34h0M107.77 284.41h0M108.97 284.1h0M110.16 284.49h0M111.36 284.56h0M112.55 284.89h0M113.75 284.17h0M114.94 284.97h0M116.14 284.85h0M117.33 284.48h0M118.53 284.02h0M119.72 285.05h0M120.92 284.09h0M122.12 284.76h0M123.31 283.91h0M124.51 283.88h0M125.7 284.61h0M126.9 283.94h0M128.09 284.84h0M129.29 284.19h0M130.48 283.73h0M131.68 283.77h0M132.87 284.02h0M134.07 284.35h0M135.26 284.71h0M136.46 283.49h0M137.65 283.74h0M138.85 283.39h0M140.05 284.36h0M141.24 283.1h0M142.44 282.87h0M143.63 282.79h0M144.83 283.16h0M146.02 283.77h0M147.22 283.65h0M148.41 283.22h0M149.61 283.35h0M150.8 283.02h0M152 281.93h0M153.19 281.49h0M154.39 282.3h0M155.58 281.79h0M156.78 280.55h0M157.98 281.25h0M159.17 280.7h0M160.37 280.55h0M161.56 280.35h0M162.76 279.97h0M163.95 279.6h0M165.15 279.84h0M166.34 279.79h0M167.54 280.49h0M168.73 279.14h0M169.93 280.11h0M171.12 278.84h0M172.32 278.84h0M173.51 279.28h0M174.71 279.07h0M175.91 278.31h0M177.1 277.57h0M178.3 277.95h0M179.49 277.6h0M180.69 278.15h0M181.88 276.93h0M183.08 276.95h0M184.27 277.49h0M185.47 276.07h0M186.66 276.49h0M187.86 276.95h0M189.05 276.79h0M190.25 275.67h0M191.44 275.56h0M192.64 275.5h0M193.84 276.6h0M195.03 275.58h0M196.23 276.16h0M197.42 276.28h0M198.62 275.39h0M199.81 275.2h0M201.01 276.06h0M202.2 275.49h0M203.4 274.89h0M204.59 275.43h0M205.79 274.77h0M206.98 274.61h0M208.18 274.13h0M209.37 275.19h0M210.57 275.46h0M211.77 275.1h0M212.96 275.58h0M214.16 274.34h0M215.35 274.67h0M216.55 275.05h0M217.74 275.77h0M218.94 275.81h0M220.13 275.06h0M221.33 274.91h0M222.52 275.21h0M223.72 275.34h0M224.91 275.99h0M226.11 274.99h0M227.3 275.9h0M228.5 275.83h0" stroke="#7444c4" stroke-width="2" stroke-linecap="round" fill="none"/>
<rect x="49.2" y="186.2" width="179.3" height="144.8" fill="none" stroke="#1e1e1e" stroke-width="1.3"/>
<path d="M49.2 331L49.2 334M61.15 331L61.15 332.8M73.11 331L73.11 334M85.06 331L85.06 332.8M97.01 331L97.01 334M108.97 331L108.97 332.8M120.92 331L120.92 334M132.87 331L132.87 332.8M144.83 331L144.83 334M156.78 331L156.78 332.8M168.73 331L168.73 334M180.69 331L180.69 332.8M192.64 331L192.64 334M204.59 331L204.59 332.8M216.55 331L216.55 334M228.5 331L228.5 332.8M49.2 331L46.2 331M49.2 316.52L47.4 316.52M49.2 302.04L46.2 302.04M49.2 287.56L47.4 287.56M49.2 273.08L46.2 273.08M49.2 258.6L47.4 258.6M49.2 244.12L46.2 244.12M49.2 229.64L47.4 229.64M49.2 215.16L46.2 215.16M49.2 200.68L47.4 200.68M49.2 186.2L46.2 186.2" stroke="#1e1e1e" stroke-width="1.1" fill="none"/>
<text x="49.2" y="343.8" font-size="8" text-anchor="middle" fill="#1c1c1c" stroke="#1c1c1c" stroke-width="0.18" >0</text>
<text x="73.11" y="343.8" font-size="8" text-anchor="middle" fill="#1c1c1c" stroke="#1c1c1c" stroke-width="0.18" >20</text>
<text x="97.01" y="343.8" font-size="8" text-anchor="middle" fill="#1c1c1c" stroke="#1c1c1c" stroke-width="0.18" >40</text>
<text x="120.92" y="343.8" font-size="8" text-anchor="middle" fill="#1c1c1c" stroke="#1c1c1c" stroke-width="0.18" >60</text>
<text x="144.83" y="343.8" font-size="8" text-anchor="middle" fill="#1c1c1c" stroke="#1c1c1c" stroke-width="0.18" >80</text>
<text x="168.73" y="343.8" font-size="8" text-anchor="middle" fill="#1c1c1c" stroke="#1c1c1c" stroke-width="0.18" >100</text>
<text x="192.64" y="343.8" font-size="8" text-anchor="middle" fill="#1c1c1c" stroke="#1c1c1c" stroke-width="0.18" >120</text>
<text x="216.55" y="343.8" font-size="8" text-anchor="middle" fill="#1c1c1c" stroke="#1c1c1c" stroke-width="0.18" >140</text>
<text x="44.6" y="334.9" font-size="8" text-anchor="end" fill="#1c1c1c" stroke="#1c1c1c" stroke-width="0.18" >0</text>
<text x="44.6" y="305.94" font-size="8" text-anchor="end" fill="#1c1c1c" stroke="#1c1c1c" stroke-width="0.18" >500</text>
<text x="44.6" y="276.98" font-size="8" text-anchor="end" fill="#1c1c1c" stroke="#1c1c1c" stroke-width="0.18" >1000</text>
<text x="44.6" y="248.02" font-size="8" text-anchor="end" fill="#1c1c1c" stroke="#1c1c1c" stroke-width="0.18" >1500</text>
<text x="44.6" y="219.06" font-size="8" text-anchor="end" fill="#1c1c1c" stroke="#1c1c1c" stroke-width="0.18" >2000</text>
<text x="44.6" y="190.1" font-size="8" text-anchor="end" fill="#1c1c1c" stroke="#1c1c1c" stroke-width="0.18" >2500</text>
<text x="138.9" y="356.5" font-size="9.6" text-anchor="middle" fill="#1c1c1c" stroke="#1c1c1c" stroke-width="0.18" >Cycle number</text>
<text x="0" y="0" font-size="9.6" text-anchor="middle" fill="#1c1c1c" stroke="#1c1c1c" stroke-width="0.18" transform="translate(23 258.5) rotate(-90)">Specific capacity (mAh g<tspan dy="-3" font-size="0.7em">&#8722;1</tspan><tspan dy="3">)</tspan></text>
<path d="M134.7 191.6h0" stroke="#3d5cc4" stroke-width="2.5" stroke-linecap="round" fill="none"/>
<text x="143.3" y="195.3" font-size="8.4" text-anchor="start" fill="#1c1c1c" stroke="#1c1c1c" stroke-width="0.18" >Si@MnO<tspan dy="1.6" font-size="5.4">2</tspan><tspan dy="-1.6">@rGO-20&#176;C</tspan></text>
<path d="M134.7 204h0" stroke="#4a1c98" stroke-width="2.5" stroke-linecap="round" fill="none"/>
<text x="143.3" y="207.3" font-size="8.4" text-anchor="start" fill="#1c1c1c" stroke="#1c1c1c" stroke-width="0.18" >Si@MnO<tspan dy="1.6" font-size="5.4">2</tspan><tspan dy="-1.6">@rGO-50&#176;C</tspan></text>
<path d="M134.7 215.7h0" stroke="#9c9410" stroke-width="2.5" stroke-linecap="round" fill="none"/>
<text x="143.3" y="219" font-size="8.4" text-anchor="start" fill="#1c1c1c" stroke="#1c1c1c" stroke-width="0.18" >Si@MnO<tspan dy="1.6" font-size="5.4">2</tspan><tspan dy="-1.6">@rGO-160&#176;C</tspan></text>
<path d="M134.7 228.1h0" stroke="#0a0a0a" stroke-width="2.5" stroke-linecap="round" fill="none"/>
<text x="143.3" y="231.4" font-size="8.4" text-anchor="start" fill="#1c1c1c" stroke="#1c1c1c" stroke-width="0.18" >Si@MnO<tspan dy="1.6" font-size="5.4">2</tspan><tspan dy="-1.6">-50&#176;C</tspan></text>
<path d="M134.7 239.9h0" stroke="#8a8a8a" stroke-width="2.5" stroke-linecap="round" fill="none"/>
<text x="143.3" y="243.2" font-size="8.4" text-anchor="start" fill="#1c1c1c" stroke="#1c1c1c" stroke-width="0.18" >Si@rGO-50&#176;C</text>
<path d="M134.7 250.4h0" stroke="#8a5a1c" stroke-width="2.5" stroke-linecap="round" fill="none"/>
<text x="143.3" y="253.7" font-size="8.4" text-anchor="start" fill="#1c1c1c" stroke="#1c1c1c" stroke-width="0.18" >Si</text>
<text x="143.2" y="264" font-size="8.5" text-anchor="start" fill="#1c1c1c" stroke="#1c1c1c" stroke-width="0.18" word-spacing="0.9">Current density: 0.1 A g<tspan dx="0.8" dy="-3" font-size="0.7em">&#8722;1</tspan></text>
<text x="237.3" y="197.5" font-size="15" text-anchor="start" fill="#1c1c1c" stroke="#1c1c1c" stroke-width="0.18" >(d)</text>
<path d="M307.24 187.4V330M337.14 187.4V330M367.04 187.4V330M396.94 187.4V330M426.84 187.4V330" stroke="#c9c9c9" stroke-width="0.8" stroke-dasharray="3 2" fill="none"/>
<g fill="none" stroke="#6c6498" stroke-width="0.8">
<circle cx="279.47" cy="197.9" r="1.3"/>
<circle cx="283.74" cy="203.4" r="1.3"/>
<circle cx="288.01" cy="200.8" r="1.3"/>
<circle cx="292.29" cy="201.6" r="1.3"/>
<circle cx="296.56" cy="202.4" r="1.3"/>
<circle cx="300.83" cy="201.4" r="1.3"/>
<circle cx="305.1" cy="202.8" r="1.3"/>
<circle cx="309.37" cy="200.3" r="1.3"/>
<circle cx="313.64" cy="200.3" r="1.3"/>
<circle cx="317.91" cy="200.3" r="1.3"/>
<circle cx="322.19" cy="200.8" r="1.3"/>
<circle cx="326.46" cy="201.3" r="1.3"/>
<circle cx="330.73" cy="198.6" r="1.3"/>
<circle cx="335" cy="201.1" r="1.3"/>
<circle cx="339.27" cy="199.4" r="1.3"/>
<circle cx="343.54" cy="201.3" r="1.3"/>
<circle cx="347.81" cy="200.3" r="1.3"/>
<circle cx="352.09" cy="200.3" r="1.3"/>
<circle cx="356.36" cy="200.3" r="1.3"/>
<circle cx="360.63" cy="200.3" r="1.3"/>
<circle cx="364.9" cy="198.3" r="1.3"/>
<circle cx="369.17" cy="200.8" r="1.3"/>
<circle cx="373.44" cy="201.6" r="1.3"/>
<circle cx="377.71" cy="200.3" r="1.3"/>
<circle cx="381.99" cy="199.3" r="1.3"/>
<circle cx="386.26" cy="199.3" r="1.3"/>
<circle cx="390.53" cy="199.3" r="1.3"/>
<circle cx="394.8" cy="199.8" r="1.3"/>
<circle cx="399.07" cy="198.7" r="1.3"/>
<circle cx="403.34" cy="197.4" r="1.3"/>
<circle cx="407.61" cy="195.6" r="1.3"/>
<circle cx="411.89" cy="198.2" r="1.3"/>
<circle cx="416.16" cy="198.7" r="1.3"/>
<circle cx="420.43" cy="198.7" r="1.3"/>
<circle cx="424.7" cy="197.1" r="1.3"/>
<circle cx="428.97" cy="203" r="1.3"/>
<circle cx="433.24" cy="201.8" r="1.3"/>
<circle cx="437.51" cy="200.6" r="1.3"/>
<circle cx="441.79" cy="201.8" r="1.3"/>
<circle cx="446.06" cy="199.8" r="1.3"/>
<circle cx="450.33" cy="200.6" r="1.3"/>
<circle cx="454.6" cy="200.6" r="1.3"/>
</g>
<path d="M279.47 209.5h0M283.74 215.3h0M288.01 218.6h0M292.29 220.6h0M296.56 222.5h0M300.83 224.8h0M305.1 226.4h0M309.37 244.2h0M313.64 245.8h0M317.91 246.8h0M322.19 247.4h0M326.46 249.8h0M330.73 250.8h0M335 251.9h0M339.27 268.3h0M343.54 268.9h0M347.81 269.7h0M352.09 270.4h0M356.36 271h0M360.63 272.4h0M364.9 273h0M369.17 286.7h0M373.44 287h0M377.71 287.4h0M381.99 287.8h0M386.26 288.2h0M390.53 288.6h0M394.8 289h0M399.07 306.1h0M403.34 306.8h0M407.61 307.3h0M411.89 307.8h0M416.16 308.3h0M420.43 308.9h0M424.7 309.4h0M428.97 244.8h0M433.24 248.2h0M437.51 249.3h0M441.79 250h0M446.06 250.6h0M450.33 251.1h0M454.6 251.6h0" stroke="#d05a10" stroke-width="3.5" stroke-linecap="round" fill="none"/>
<path d="M279.47 209.5h0M283.74 215.3h0M288.01 218.6h0M292.29 220.6h0M296.56 222.5h0M300.83 224.8h0M305.1 226.4h0M309.37 244.2h0M313.64 245.8h0M317.91 246.8h0M322.19 247.4h0M326.46 249.8h0M330.73 250.8h0M335 251.9h0M339.27 268.3h0M343.54 268.9h0M347.81 269.7h0M352.09 270.4h0M356.36 271h0M360.63 272.4h0M364.9 273h0M369.17 286.7h0M373.44 287h0M377.71 287.4h0M381.99 287.8h0M386.26 288.2h0M390.53 288.6h0M394.8 289h0M399.07 306.1h0M403.34 306.8h0M407.61 307.3h0M411.89 307.8h0M416.16 308.3h0M420.43 308.9h0M424.7 309.4h0M428.97 244.8h0M433.24 248.2h0M437.51 249.3h0M441.79 250h0M446.06 250.6h0M450.33 251.1h0M454.6 251.6h0" stroke="#ec7a2c" stroke-width="2.3" stroke-linecap="round" fill="none"/>
<path d="M279.47 211.4h0M283.74 214.7h0M288.01 217.7h0M292.29 219h0M296.56 220.2h0M300.83 223.1h0M305.1 223.5h0M309.37 243.4h0M313.64 245h0M317.91 246.1h0M322.19 246.7h0M326.46 249.2h0M330.73 250.2h0M335 251.3h0M339.27 267.9h0M343.54 268.5h0M347.81 269.3h0M352.09 270h0M356.36 270.6h0M360.63 272h0M364.9 272.6h0M369.17 286.3h0M373.44 286.6h0M377.71 287h0M381.99 287.4h0M386.26 287.8h0M390.53 288.2h0M394.8 288.6h0M399.07 305.8h0M403.34 306.5h0M407.61 307h0M411.89 307.5h0M416.16 308h0M420.43 308.6h0M424.7 309.1h0M428.97 242.3h0M433.24 247.2h0M437.51 248.5h0M441.79 249.3h0M446.06 250h0M450.33 250.5h0M454.6 251h0" stroke="#5c1890" stroke-width="3.5" stroke-linecap="round" fill="none"/>
<path d="M279.47 211.4h0M283.74 214.7h0M288.01 217.7h0M292.29 219h0M296.56 220.2h0M300.83 223.1h0M305.1 223.5h0M309.37 243.4h0M313.64 245h0M317.91 246.1h0M322.19 246.7h0M326.46 249.2h0M330.73 250.2h0M335 251.3h0M339.27 267.9h0M343.54 268.5h0M347.81 269.3h0M352.09 270h0M356.36 270.6h0M360.63 272h0M364.9 272.6h0M369.17 286.3h0M373.44 286.6h0M377.71 287h0M381.99 287.4h0M386.26 287.8h0M390.53 288.2h0M394.8 288.6h0M399.07 305.8h0M403.34 306.5h0M407.61 307h0M411.89 307.5h0M416.16 308h0M420.43 308.6h0M424.7 309.1h0M428.97 242.3h0M433.24 247.2h0M437.51 248.5h0M441.79 249.3h0M446.06 250h0M450.33 250.5h0M454.6 251h0" stroke="#8a30b8" stroke-width="2.3" stroke-linecap="round" fill="none"/>
<rect x="275.2" y="186.6" width="179.4" height="144.2" fill="none" stroke="#1e1e1e" stroke-width="1.3"/>
<path d="M275.2 330.8L275.2 333.8M305.1 330.8L305.1 333.8M335 330.8L335 333.8M364.9 330.8L364.9 333.8M394.8 330.8L394.8 333.8M424.7 330.8L424.7 333.8M454.6 330.8L454.6 333.8M275.2 330.8L272.2 330.8M275.2 312.78L273.4 312.78M275.2 294.75L272.2 294.75M275.2 276.73L273.4 276.73M275.2 258.7L272.2 258.7M275.2 240.68L273.4 240.68M275.2 222.65L272.2 222.65M275.2 204.62L273.4 204.62M275.2 186.6L272.2 186.6M454.6 330.8L457.6 330.8M454.6 304.58L457.6 304.58M454.6 278.36L457.6 278.36M454.6 252.15L457.6 252.15M454.6 225.93L457.6 225.93M454.6 199.71L457.6 199.71" stroke="#1e1e1e" stroke-width="1.1" fill="none"/>
<text x="275.2" y="343.3" font-size="8" text-anchor="middle" fill="#1c1c1c" stroke="#1c1c1c" stroke-width="0.18" >0</text>
<text x="305.1" y="343.3" font-size="8" text-anchor="middle" fill="#1c1c1c" stroke="#1c1c1c" stroke-width="0.18" >7</text>
<text x="335" y="343.3" font-size="8" text-anchor="middle" fill="#1c1c1c" stroke="#1c1c1c" stroke-width="0.18" >14</text>
<text x="364.9" y="343.3" font-size="8" text-anchor="middle" fill="#1c1c1c" stroke="#1c1c1c" stroke-width="0.18" >21</text>
<text x="394.8" y="343.3" font-size="8" text-anchor="middle" fill="#1c1c1c" stroke="#1c1c1c" stroke-width="0.18" >28</text>
<text x="424.7" y="343.3" font-size="8" text-anchor="middle" fill="#1c1c1c" stroke="#1c1c1c" stroke-width="0.18" >35</text>
<text x="454.6" y="343.3" font-size="8" text-anchor="middle" fill="#1c1c1c" stroke="#1c1c1c" stroke-width="0.18" >42</text>
<text x="269.6" y="334.4" font-size="8" text-anchor="end" fill="#1c1c1c" stroke="#1c1c1c" stroke-width="0.18" >0</text>
<text x="269.6" y="298.35" font-size="8" text-anchor="end" fill="#1c1c1c" stroke="#1c1c1c" stroke-width="0.18" >400</text>
<text x="269.6" y="262.3" font-size="8" text-anchor="end" fill="#1c1c1c" stroke="#1c1c1c" stroke-width="0.18" >800</text>
<text x="269.6" y="226.25" font-size="8" text-anchor="end" fill="#1c1c1c" stroke="#1c1c1c" stroke-width="0.18" >1200</text>
<text x="269.6" y="190.2" font-size="8" text-anchor="end" fill="#1c1c1c" stroke="#1c1c1c" stroke-width="0.18" >1600</text>
<text x="460.3" y="334.4" font-size="8" text-anchor="start" fill="#1c1c1c" stroke="#1c1c1c" stroke-width="0.18" >0</text>
<text x="460.3" y="308.18" font-size="8" text-anchor="start" fill="#1c1c1c" stroke="#1c1c1c" stroke-width="0.18" >20</text>
<text x="460.3" y="281.96" font-size="8" text-anchor="start" fill="#1c1c1c" stroke="#1c1c1c" stroke-width="0.18" >40</text>
<text x="460.3" y="255.75" font-size="8" text-anchor="start" fill="#1c1c1c" stroke="#1c1c1c" stroke-width="0.18" >60</text>
<text x="460.3" y="229.53" font-size="8" text-anchor="start" fill="#1c1c1c" stroke="#1c1c1c" stroke-width="0.18" >80</text>
<text x="460.3" y="203.31" font-size="8" text-anchor="start" fill="#1c1c1c" stroke="#1c1c1c" stroke-width="0.18" >100</text>
<text x="364.9" y="356.6" font-size="9.6" text-anchor="middle" fill="#1c1c1c" stroke="#1c1c1c" stroke-width="0.18" >Cycle number</text>
<text x="0" y="0" font-size="9.6" text-anchor="middle" fill="#1c1c1c" stroke="#1c1c1c" stroke-width="0.18" transform="translate(251.2 258.5) rotate(-90)">Specific capacity (mAh g<tspan dy="-3" font-size="0.7em">&#8722;1</tspan><tspan dy="3">)</tspan></text>
<text x="0" y="0" font-size="9.6" text-anchor="middle" fill="#1c1c1c" stroke="#1c1c1c" stroke-width="0.18" transform="translate(480.4 262.9) rotate(-90)">Coulombic efficiency(%)</text>
<path d="M378.4 218.1h0" stroke="#5c1890" stroke-width="3.5" stroke-linecap="round" fill="none"/>
<path d="M378.4 218.1h0" stroke="#8a30b8" stroke-width="2.3" stroke-linecap="round" fill="none"/>
<path d="M378.4 228.3h0" stroke="#d05a10" stroke-width="3.5" stroke-linecap="round" fill="none"/>
<path d="M378.4 228.3h0" stroke="#ec7a2c" stroke-width="2.3" stroke-linecap="round" fill="none"/>
<text x="390.1" y="220.6" font-size="8.4" text-anchor="start" fill="#1c1c1c" stroke="#1c1c1c" stroke-width="0.18" >Discharge</text>
<text x="390.1" y="230.8" font-size="8.4" text-anchor="start" fill="#1c1c1c" stroke="#1c1c1c" stroke-width="0.18" >Charge</text>
<path d="M435.6 203.7V214.5H448.5" stroke="#1e1e1e" stroke-width="1" fill="none"/>
<path d="M453.4 214.5L447.6 212.8L447.6 216.2Z" fill="#1e1e1e"/>
<text x="280.6" y="236.6" font-size="6.3" fill="#333" word-spacing="0.7">0.1 A g<tspan dx="0.4" dy="-2.4" font-size="4.2">&#8722;1</tspan></text>
<text x="311.3" y="263.7" font-size="6.3" fill="#333" word-spacing="0.7">0.2 A g<tspan dx="0.4" dy="-2.4" font-size="4.2">&#8722;1</tspan></text>
<text x="341.4" y="286.9" font-size="6.3" fill="#333" word-spacing="0.7">0.5 A g<tspan dx="0.4" dy="-2.4" font-size="4.2">&#8722;1</tspan></text>
<text x="373.9" y="303.9" font-size="6.3" fill="#333" word-spacing="0.7">1 A g<tspan dx="0.4" dy="-2.4" font-size="4.2">&#8722;1</tspan></text>
<text x="403.2" y="320" font-size="6.3" fill="#333" word-spacing="0.7">2 A g<tspan dx="0.4" dy="-2.4" font-size="4.2">&#8722;1</tspan></text>
<text x="429.9" y="264.1" font-size="6.3" fill="#333" word-spacing="0.7">0.1 A g<tspan dx="0.4" dy="-2.4" font-size="4.2">&#8722;1</tspan></text>
<text x="3.7" y="381.7" font-size="15" text-anchor="start" fill="#1c1c1c" stroke="#1c1c1c" stroke-width="0.18" >(e)</text>
<path d="M50.0 380.9L51.6 380.5L53.2 380.5L54.8 380.4L56.4 381.3L58.0 380.6L59.6 380.8L61.2 381.4L62.8 381.5L64.5 381.5L66.1 381.0L67.7 381.3L69.3 381.8L70.9 381.5L72.5 381.1L74.1 382.1L75.7 382.1L77.3 382.2L78.9 381.6L80.5 381.7L82.1 381.5L83.7 381.9L85.3 381.7L86.9 382.3L88.5 382.2L90.1 382.1L91.7 382.7L93.4 382.6L95.0 382.3L96.6 382.4L98.2 382.6L99.8 382.4L101.4 382.6L103.0 382.9L104.6 383.1L106.2 383.1L107.8 383.0L109.4 382.6L111.0 382.5L112.6 382.4L114.2 382.4L115.8 383.2L117.4 383.0L119.0 382.9L120.6 382.5L122.3 383.3L123.9 383.0L125.5 382.7L127.1 383.3L128.7 383.2L130.3 383.7L131.9 383.4L133.5 383.2L135.1 383.5L136.7 383.5L138.3 383.6L139.9 383.0L141.5 382.8L143.1 383.5L144.7 382.9L146.3 383.7L147.9 382.9L149.5 383.6L151.2 383.2L152.8 383.6L154.4 383.5L156.0 383.2L157.6 383.5L159.2 383.1L160.8 382.9L162.4 383.2L164.0 383.6L165.6 383.2L167.2 383.9L168.8 383.0L170.4 383.6L172.0 383.3L173.6 383.4L175.2 383.1L176.8 383.3L178.4 383.9L180.1 383.1L181.7 383.1L183.3 383.8L184.9 383.3L186.5 383.8L188.1 383.7L189.7 383.4L191.3 384.0L192.9 383.9L194.5 384.1L196.1 383.8L197.7 383.7L199.3 383.7L200.9 383.4L202.5 383.4L204.1 383.6L205.7 384.0L207.4 383.3L209.0 384.1L210.6 384.2L212.2 383.4L213.8 384.0L215.4 383.4L217.0 383.7L218.6 383.6L220.2 384.3L221.8 383.4L223.4 383.7L225.0 384.2L226.6 383.4L228.2 383.4L229.8 383.6L231.4 383.7L233.0 384.1L234.6 383.5L236.3 384.0L237.9 384.3L239.5 383.6L241.1 383.8L242.7 384.0L244.3 383.8L245.9 384.1L247.5 384.2L249.1 384.4L250.7 384.2L252.3 383.7L253.9 383.8L255.5 383.6L257.1 384.5L258.7 383.7L260.3 383.9L261.9 384.2L263.5 383.7L265.2 384.5L266.8 384.0L268.4 384.3L270.0 384.2L271.6 383.7L273.2 384.2L274.8 384.2L276.4 383.8L278.0 384.1L279.6 383.8L281.2 383.7L282.8 384.1L284.4 384.0L286.0 384.0L287.6 384.0L289.2 383.7L290.8 384.0L292.4 384.6L294.1 384.1L295.7 384.5L297.3 383.9L298.9 384.5L300.5 384.2L302.1 384.6L303.7 384.1L305.3 384.0L306.9 384.1L308.5 384.7L310.1 384.6L311.7 384.4L313.3 384.4L314.9 384.0L316.5 384.6L318.1 384.4L319.7 384.5L321.3 384.3L323.0 384.3L324.6 384.3L326.2 384.3L327.8 383.8L329.4 384.4L331.0 384.7L332.6 383.8L334.2 384.1L335.8 384.7L337.4 384.1L339.0 384.3L340.6 384.2L342.2 384.6L343.8 384.3L345.4 384.2L347.0 384.5L348.6 384.7L350.2 383.8L351.9 384.5L353.5 384.5L355.1 384.5L356.7 384.6L358.3 384.6L359.9 384.7L361.5 384.2L363.1 384.5L364.7 383.9L366.3 384.8L367.9 384.5L369.5 384.3L371.1 384.0L372.7 384.0L374.3 384.0L375.9 384.6L377.5 384.6L379.1 384.5L380.8 384.2L382.4 383.9L384.0 384.2L385.6 384.4L387.2 384.4L388.8 384.3L390.4 384.3L392.0 384.5L393.6 384.7L395.2 384.9L396.8 384.4L398.4 384.6L400.0 384.0L401.6 384.8L403.2 384.8L404.8 384.8L406.4 384.3L408.1 384.2L409.7 384.6L411.3 384.2L412.9 384.1L414.5 384.6L416.1 384.5L417.7 384.2L419.3 384.4L420.9 385.0L422.5 384.8L424.1 384.5L425.7 384.9L427.3 384.8L428.9 384.9L430.5 384.2L432.1 384.6L433.7 385.0L435.3 384.2L437.0 384.7L438.6 384.5L440.2 384.3L441.8 385.0L443.4 384.9L445.0 384.1L446.6 384.8L448.2 384.2L449.8 384.6" fill="none" stroke="#7466c4" stroke-width="3.6" stroke-linecap="round"/>
<path d="M50.0 380.9h0M50.8 380.8h0M51.6 380.5h0M52.4 381.0h0M53.2 380.5h0M54.0 380.5h0M54.8 380.4h0M55.6 380.7h0M56.4 381.3h0M57.2 380.7h0M58.0 380.6h0M58.8 381.2h0M59.6 380.8h0M60.4 381.2h0M61.2 381.4h0M62.0 381.3h0M62.8 381.5h0M63.6 381.3h0M64.5 381.5h0M65.3 381.0h0M66.1 381.0h0M66.9 381.4h0M67.7 381.3h0M68.5 381.4h0M69.3 381.8h0M70.1 382.0h0M70.9 381.5h0M71.7 381.9h0M72.5 381.1h0M73.3 381.3h0M74.1 382.1h0M74.9 382.1h0M75.7 382.1h0M76.5 381.5h0M77.3 382.2h0M78.1 381.9h0M78.9 381.6h0M79.7 381.5h0M80.5 381.7h0M81.3 382.1h0M82.1 381.5h0M82.9 382.2h0M83.7 381.9h0M84.5 382.4h0M85.3 381.7h0M86.1 382.0h0M86.9 382.3h0M87.7 381.9h0M88.5 382.2h0M89.3 382.1h0M90.1 382.1h0M90.9 382.2h0M91.7 382.7h0M92.5 382.2h0M93.4 382.6h0M94.2 381.9h0M95.0 382.3h0M95.8 382.3h0M96.6 382.4h0M97.4 382.0h0M98.2 382.6h0M99.0 382.1h0M99.8 382.4h0M100.6 382.2h0M101.4 382.6h0M102.2 382.2h0M103.0 382.9h0M103.8 382.3h0M104.6 383.1h0M105.4 382.6h0M106.2 383.1h0M107.0 383.1h0M107.8 383.0h0M108.6 383.0h0M109.4 382.6h0M110.2 383.1h0M111.0 382.5h0M111.8 382.8h0M112.6 382.4h0M113.4 383.1h0M114.2 382.4h0M115.0 383.1h0M115.8 383.2h0M116.6 383.0h0M117.4 383.0h0M118.2 382.9h0M119.0 382.9h0M119.8 382.9h0M120.6 382.5h0M121.5 383.0h0M122.3 383.3h0M123.1 383.0h0M123.9 383.0h0M124.7 382.7h0M125.5 382.7h0M126.3 383.1h0M127.1 383.3h0M127.9 383.4h0M128.7 383.2h0M129.5 383.2h0M130.3 383.7h0M131.1 383.6h0M131.9 383.4h0M132.7 382.9h0M133.5 383.2h0M134.3 383.6h0M135.1 383.5h0M135.9 382.8h0M136.7 383.5h0M137.5 383.7h0M138.3 383.6h0M139.1 383.3h0M139.9 383.0h0M140.7 383.3h0M141.5 382.8h0M142.3 383.0h0M143.1 383.5h0M143.9 383.0h0M144.7 382.9h0M145.5 383.5h0M146.3 383.7h0M147.1 383.4h0M147.9 382.9h0M148.7 383.5h0M149.5 383.6h0M150.4 383.8h0M151.2 383.2h0M152.0 383.3h0M152.8 383.6h0M153.6 383.7h0M154.4 383.5h0M155.2 383.5h0M156.0 383.2h0M156.8 382.9h0M157.6 383.5h0M158.4 383.4h0M159.2 383.1h0M160.0 383.6h0M160.8 382.9h0M161.6 383.0h0M162.4 383.2h0M163.2 383.5h0M164.0 383.6h0M164.8 383.1h0M165.6 383.2h0M166.4 383.1h0M167.2 383.9h0M168.0 383.4h0M168.8 383.0h0M169.6 383.6h0M170.4 383.6h0M171.2 383.9h0M172.0 383.3h0M172.8 383.1h0M173.6 383.4h0M174.4 383.1h0M175.2 383.1h0M176.0 384.0h0M176.8 383.3h0M177.6 383.6h0M178.4 383.9h0M179.3 383.4h0M180.1 383.1h0M180.9 383.9h0M181.7 383.1h0M182.5 383.8h0M183.3 383.8h0M184.1 383.3h0M184.9 383.3h0M185.7 383.5h0M186.5 383.8h0M187.3 383.8h0M188.1 383.7h0M188.9 383.9h0M189.7 383.4h0M190.5 384.1h0M191.3 384.0h0M192.1 383.4h0M192.9 383.9h0M193.7 383.9h0M194.5 384.1h0M195.3 383.4h0M196.1 383.8h0M196.9 383.9h0M197.7 383.7h0M198.5 383.9h0M199.3 383.7h0M200.1 383.8h0M200.9 383.4h0M201.7 383.3h0M202.5 383.4h0M203.3 383.4h0M204.1 383.6h0M204.9 383.3h0M205.7 384.0h0M206.5 384.0h0M207.4 383.3h0M208.2 383.6h0M209.0 384.1h0M209.8 383.4h0M210.6 384.2h0M211.4 383.4h0M212.2 383.4h0M213.0 384.2h0M213.8 384.0h0M214.6 384.0h0M215.4 383.4h0M216.2 384.1h0M217.0 383.7h0M217.8 383.4h0M218.6 383.6h0M219.4 383.7h0M220.2 384.3h0M221.0 384.2h0M221.8 383.4h0M222.6 383.8h0M223.4 383.7h0M224.2 383.9h0M225.0 384.2h0M225.8 384.2h0M226.6 383.4h0M227.4 384.1h0M228.2 383.4h0M229.0 383.9h0M229.8 383.6h0M230.6 383.7h0M231.4 383.7h0M232.2 383.7h0M233.0 384.1h0M233.8 383.5h0M234.6 383.5h0M235.4 384.1h0M236.3 384.0h0M237.1 383.8h0M237.9 384.3h0M238.7 384.3h0M239.5 383.6h0M240.3 384.3h0M241.1 383.8h0M241.9 383.7h0M242.7 384.0h0M243.5 384.2h0M244.3 383.8h0M245.1 383.6h0M245.9 384.1h0M246.7 383.6h0M247.5 384.2h0M248.3 383.6h0M249.1 384.4h0M249.9 383.7h0M250.7 384.2h0M251.5 383.6h0M252.3 383.7h0M253.1 384.0h0M253.9 383.8h0M254.7 384.5h0M255.5 383.6h0M256.3 383.6h0M257.1 384.5h0M257.9 384.2h0M258.7 383.7h0M259.5 383.6h0M260.3 383.9h0M261.1 383.9h0M261.9 384.2h0M262.7 384.2h0M263.5 383.7h0M264.3 383.9h0M265.2 384.5h0M266.0 384.1h0M266.8 384.0h0M267.6 384.3h0M268.4 384.3h0M269.2 384.4h0M270.0 384.2h0M270.8 383.9h0M271.6 383.7h0M272.4 384.4h0M273.2 384.2h0M274.0 384.0h0M274.8 384.2h0M275.6 384.3h0M276.4 383.8h0M277.2 384.4h0M278.0 384.1h0M278.8 383.6h0M279.6 383.8h0M280.4 384.6h0M281.2 383.7h0M282.0 384.2h0M282.8 384.1h0M283.6 384.5h0M284.4 384.0h0M285.2 383.8h0M286.0 384.0h0M286.8 383.8h0M287.6 384.0h0M288.4 383.9h0M289.2 383.7h0M290.0 384.1h0M290.8 384.0h0M291.6 383.9h0M292.4 384.6h0M293.2 383.9h0M294.1 384.1h0M294.9 383.8h0M295.7 384.5h0M296.5 384.2h0M297.3 383.9h0M298.1 384.0h0M298.9 384.5h0M299.7 384.2h0M300.5 384.2h0M301.3 384.5h0M302.1 384.6h0M302.9 384.1h0M303.7 384.1h0M304.5 383.7h0M305.3 384.0h0M306.1 384.0h0M306.9 384.1h0M307.7 384.4h0M308.5 384.7h0M309.3 383.8h0M310.1 384.6h0M310.9 383.9h0M311.7 384.4h0M312.5 383.7h0M313.3 384.4h0M314.1 383.8h0M314.9 384.0h0M315.7 384.1h0M316.5 384.6h0M317.3 383.9h0M318.1 384.4h0M318.9 384.4h0M319.7 384.5h0M320.5 384.0h0M321.3 384.3h0M322.2 384.2h0M323.0 384.3h0M323.8 384.0h0M324.6 384.3h0M325.4 384.2h0M326.2 384.3h0M327.0 384.3h0M327.8 383.8h0M328.6 384.2h0M329.4 384.4h0M330.2 384.2h0M331.0 384.7h0M331.8 384.4h0M332.6 383.8h0M333.4 384.5h0M334.2 384.1h0M335.0 384.3h0M335.8 384.7h0M336.6 384.5h0M337.4 384.1h0M338.2 384.2h0M339.0 384.3h0M339.8 384.0h0M340.6 384.2h0M341.4 384.6h0M342.2 384.6h0M343.0 384.3h0M343.8 384.3h0M344.6 384.5h0M345.4 384.2h0M346.2 384.1h0M347.0 384.5h0M347.8 383.9h0M348.6 384.7h0M349.4 383.9h0M350.2 383.8h0M351.1 384.8h0M351.9 384.5h0M352.7 384.7h0M353.5 384.5h0M354.3 384.5h0M355.1 384.5h0M355.9 384.5h0M356.7 384.6h0M357.5 384.0h0M358.3 384.6h0M359.1 384.5h0M359.9 384.7h0M360.7 384.4h0M361.5 384.2h0M362.3 384.2h0M363.1 384.5h0M363.9 383.9h0M364.7 383.9h0M365.5 384.7h0M366.3 384.8h0M367.1 383.9h0M367.9 384.5h0M368.7 384.9h0M369.5 384.3h0M370.3 384.5h0M371.1 384.0h0M371.9 383.9h0M372.7 384.0h0M373.5 384.0h0M374.3 384.0h0M375.1 384.6h0M375.9 384.6h0M376.7 384.0h0M377.5 384.6h0M378.3 384.6h0M379.1 384.5h0M380.0 384.4h0M380.8 384.2h0M381.6 384.6h0M382.4 383.9h0M383.2 384.7h0M384.0 384.2h0M384.8 384.1h0M385.6 384.4h0M386.4 384.3h0M387.2 384.4h0M388.0 384.1h0M388.8 384.3h0M389.6 384.6h0M390.4 384.3h0M391.2 384.9h0M392.0 384.5h0M392.8 384.0h0M393.6 384.7h0M394.4 384.3h0M395.2 384.9h0M396.0 384.6h0M396.8 384.4h0M397.6 384.3h0M398.4 384.6h0M399.2 384.8h0M400.0 384.0h0M400.8 384.4h0M401.6 384.8h0M402.4 384.0h0M403.2 384.8h0M404.0 384.5h0M404.8 384.8h0M405.6 384.7h0M406.4 384.3h0M407.2 384.5h0M408.1 384.2h0M408.9 384.9h0M409.7 384.6h0M410.5 384.5h0M411.3 384.2h0M412.1 384.8h0M412.9 384.1h0M413.7 384.8h0M414.5 384.6h0M415.3 384.9h0M416.1 384.5h0M416.9 384.2h0M417.7 384.2h0M418.5 384.4h0M419.3 384.4h0M420.1 384.2h0M420.9 385.0h0M421.7 384.1h0M422.5 384.8h0M423.3 384.6h0M424.1 384.5h0M424.9 384.1h0M425.7 384.9h0M426.5 384.6h0M427.3 384.8h0M428.1 385.0h0M428.9 384.9h0M429.7 384.3h0M430.5 384.2h0M431.3 384.1h0M432.1 384.6h0M432.9 384.5h0M433.7 385.0h0M434.5 384.7h0M435.3 384.2h0M436.1 384.3h0M437.0 384.7h0M437.8 384.7h0M438.6 384.5h0M439.4 385.0h0M440.2 384.3h0M441.0 384.3h0M441.8 385.0h0M442.6 384.9h0M443.4 384.9h0M444.2 384.7h0M445.0 384.1h0M445.8 384.8h0M446.6 384.8h0M447.4 384.7h0M448.2 384.2h0M449.0 384.4h0M449.8 384.6h0M450.6 384.3h0" stroke="#7a6dc8" stroke-width="3.9" stroke-linecap="round" fill="none"/>
<g fill="none" stroke="#9a90d6" stroke-width="0.7">
<circle cx="62.1" cy="378.3" r="1.7"/>
<circle cx="67" cy="378.3" r="1.7"/>
<circle cx="67.9" cy="386.6" r="1.7"/>
<circle cx="82.8" cy="378.3" r="1.7"/>
<circle cx="82.8" cy="386.6" r="1.7"/>
<circle cx="97.7" cy="381.6" r="1.7"/>
<circle cx="107.6" cy="386.2" r="1.7"/>
<circle cx="119.2" cy="378.3" r="1.7"/>
<circle cx="140" cy="386.8" r="1.7"/>
<circle cx="160" cy="380.2" r="1.7"/>
<circle cx="185" cy="387" r="1.7"/>
<circle cx="205" cy="379.6" r="1.7"/>
<circle cx="232" cy="386.8" r="1.7"/>
<circle cx="250" cy="379.8" r="1.7"/>
<circle cx="275" cy="387.2" r="1.7"/>
<circle cx="305" cy="380.4" r="1.7"/>
</g>
<path d="M50.4 428.49h0M51.21 429.63h0M52.01 431.54h0M52.81 433.89h0M53.61 434.09h0M54.42 435.9h0M55.22 437.82h0M56.02 439.12h0M56.83 441.12h0M57.63 442.06h0M58.43 443.79h0M59.23 445.49h0M60.04 447.35h0M60.84 449.41h0M61.64 451.45h0M62.44 453.11h0M63.25 453.38h0M64.05 454.14h0M64.85 455.86h0M65.66 457.9h0M66.46 458.5h0M67.26 458.6h0M68.06 458.9h0M68.87 457.97h0M69.67 460.04h0M70.47 460.86h0M71.28 461.63h0M72.08 460.9h0M72.88 461.6h0M73.68 461.42h0M74.49 462h0M75.29 462.75h0M76.09 462.47h0M76.9 463.46h0M77.7 462.87h0M78.5 463.13h0M79.3 463.75h0M80.11 464.17h0M80.91 463.55h0M81.71 463.72h0M82.51 464.18h0M83.32 463.53h0M84.12 463.43h0M84.92 463.73h0M85.73 464.12h0M86.53 463.93h0M87.33 464.09h0M88.13 463.39h0M88.94 464.54h0M89.74 464.37h0M90.54 463.92h0M91.35 464.4h0M92.15 463.66h0M92.95 464.7h0M93.75 463.95h0M94.56 463.97h0M95.36 464.45h0M96.16 463.7h0M96.97 463.39h0M97.77 463.55h0M98.57 463.42h0M99.37 462.1h0M100.18 461.71h0M100.98 461.53h0M101.78 461.73h0M102.58 461.13h0M103.39 461.84h0M104.19 461.39h0M104.99 460.36h0M105.8 459.85h0M106.6 458.99h0M107.4 458.78h0M108.2 457.74h0M109.01 457.26h0M109.81 456.76h0M110.61 456.45h0M111.42 455.39h0M112.22 454.69h0M113.02 454.71h0M113.82 453.98h0M114.63 452.77h0M115.43 451.94h0M116.23 451.17h0M117.04 450.98h0M117.84 450.41h0M118.64 449.27h0M119.44 450.38h0M120.25 451.07h0M121.05 452.45h0M121.85 454.42h0M122.65 454.54h0M123.46 454.75h0M124.26 453.85h0M125.06 453.5h0M125.87 453.95h0M126.67 454.62h0M127.47 454.76h0M128.27 453.58h0M129.08 451.84h0M129.88 451.06h0M130.68 449.96h0M131.49 449.06h0M132.29 448.45h0M133.09 448.23h0M133.89 449.02h0M134.7 448.85h0M135.5 449.71h0M136.3 451.4h0M137.11 450.97h0M137.91 451.04h0M138.71 451.92h0M139.51 452.19h0M140.32 452.55h0M141.12 453.58h0M141.92 454.14h0M142.72 452.88h0M143.53 452.63h0M144.33 452.59h0M145.13 452.15h0M145.94 451.32h0M146.74 452.17h0M147.54 451.51h0M148.34 452.12h0M149.15 451.1h0M149.95 450.24h0M150.75 449.87h0M151.56 450.33h0M152.36 450.49h0M153.16 451.66h0M153.96 451.42h0M154.77 451.32h0M155.57 452.97h0M156.37 452.83h0M157.18 452.13h0M157.98 451.71h0M158.78 450.8h0M159.58 450.41h0M160.39 449.57h0M161.19 448.65h0M161.99 448.36h0M162.79 448.15h0M163.6 448.02h0M164.4 447.97h0M165.2 447.31h0M166.01 446.92h0M166.81 447.74h0M167.61 446.87h0M168.41 446.23h0M169.22 447.27h0M170.02 446.49h0M170.82 446.89h0M171.63 447.7h0M172.43 446.45h0M173.23 447.24h0M174.03 447.46h0M174.84 447.9h0M175.64 447.71h0M176.44 446.86h0M177.25 446.03h0M178.05 445.26h0M178.85 445.22h0M179.65 444.83h0M180.46 444.32h0M181.26 443.13h0M182.06 443.11h0M182.86 442.94h0M183.67 442.62h0M184.47 442.84h0M185.27 443.68h0M186.08 443.4h0M186.88 443.3h0M187.68 442.8h0M188.48 442.19h0M189.29 441.43h0M190.09 441.88h0M190.89 441.61h0M191.7 440.87h0M192.5 442.26h0M193.3 440.9h0M194.1 441.34h0M194.91 441.65h0M195.71 440.62h0M196.51 439.88h0M197.32 439.18h0M198.12 439.4h0M198.92 439.13h0M199.72 438.56h0M200.53 439.06h0M201.33 437.83h0M202.13 438.74h0M202.93 439.4h0M203.74 438.69h0M204.54 438.21h0M205.34 437.31h0M206.15 437.37h0M206.95 436.76h0M207.75 436.46h0M208.55 435.78h0M209.36 436.47h0M210.16 436.48h0M210.96 435.52h0M211.77 434.96h0M212.57 435.27h0M213.37 435.07h0M214.17 434.71h0M214.98 434.21h0M215.78 435.62h0M216.58 435.64h0M217.39 434.59h0M218.19 435.57h0M218.99 434.48h0M219.79 433.31h0M220.6 433.13h0M221.4 434.32h0M222.2 433.52h0M223 433.28h0M223.81 432.63h0M224.61 430.86h0M225.41 431.11h0M226.22 432.03h0M227.02 431h0M227.82 431.08h0M228.62 431.5h0M229.43 431.85h0M230.23 432.25h0M231.03 432.22h0M231.84 431.65h0M232.64 431.45h0M233.44 431.61h0M234.24 431.68h0M235.05 431.6h0M235.85 431.45h0M236.65 431.71h0M237.46 431.52h0M238.26 432.1h0M239.06 432.07h0M239.86 430.94h0M240.67 430.48h0M241.47 430.24h0M242.27 430.14h0M243.07 430.48h0M243.88 430.82h0M244.68 429.78h0M245.48 429.7h0M246.29 430.24h0M247.09 429.67h0M247.89 429.24h0M248.69 428.9h0M249.5 428.55h0M250.3 428.16h0M251.1 428.22h0M251.91 428.12h0M252.71 427.93h0M253.51 428.55h0M254.31 428.68h0M255.12 429.19h0M255.92 428.11h0M256.72 428.01h0M257.53 427.64h0M258.33 428.11h0M259.13 428.21h0M259.93 428.06h0M260.74 427.84h0M261.54 427.59h0M262.34 427.16h0M263.14 427.25h0M263.95 425.74h0M264.75 425.37h0M265.55 425.27h0M266.36 425.11h0M267.16 425.26h0M267.96 425.51h0M268.76 424.92h0M269.57 425.23h0M270.37 424.67h0M271.17 425.58h0M271.98 425.29h0M272.78 424.84h0M273.58 424.16h0M274.38 423.23h0M275.19 424.11h0M275.99 424.92h0M276.79 424.12h0M277.6 424.65h0M278.4 424.68h0M279.2 424.78h0M280 425.91h0M280.81 425.95h0M281.61 425.52h0M282.41 425.02h0M283.21 424.47h0M284.02 425.1h0M284.82 424.7h0M285.62 423.81h0M286.43 423.02h0M287.23 422.85h0M288.03 422.21h0M288.83 422.45h0M289.64 422.94h0M290.44 422.37h0M291.24 422.41h0M292.05 423.7h0M292.85 422.93h0M293.65 424.07h0M294.45 423.39h0M295.26 423.89h0M296.06 424.72h0M296.86 424.28h0M297.67 424.52h0M298.47 425.08h0M299.27 424.3h0M300.07 424.67h0M300.88 424.32h0M301.68 423.76h0M302.48 423.51h0M303.28 423.11h0M304.09 423.31h0M304.89 422.62h0M305.69 423.09h0M306.5 424.2h0M307.3 424.83h0M308.1 425.56h0M308.9 424.72h0M309.71 424.86h0M310.51 424.76h0M311.31 424.38h0M312.12 424.5h0M312.92 424.23h0M313.72 424.24h0M314.52 423.22h0M315.33 423.44h0M316.13 424.92h0M316.93 424.1h0M317.74 423.63h0M318.54 424.12h0M319.34 425.82h0M320.14 425.5h0M320.95 425.45h0M321.75 425.66h0M322.55 424.02h0M323.35 424.02h0M324.16 422.78h0M324.96 423.63h0M325.76 423.5h0M326.57 425.05h0M327.37 426.64h0M328.17 428.06h0M328.97 429.43h0M329.78 430.07h0M330.58 429.34h0M331.38 429.84h0M332.19 430.77h0M332.99 430.94h0M333.79 429.4h0M334.59 430.33h0M335.4 429.28h0M336.2 429.48h0M337 428.57h0M337.81 427.94h0M338.61 427.4h0M339.41 427.92h0M340.21 427.69h0M341.02 428.16h0M341.82 427.43h0M342.62 427.08h0M343.42 427.91h0M344.23 427.74h0M345.03 428.07h0M345.83 428.69h0M346.64 428.15h0M347.44 427.92h0M348.24 426.46h0M349.04 426.03h0M349.85 424.93h0M350.65 425.68h0M351.45 425.02h0M352.26 423.95h0M353.06 425.08h0M353.86 424.46h0M354.66 423.93h0M355.47 423.86h0M356.27 423.09h0M357.07 423.03h0M357.88 423.11h0M358.68 422.73h0M359.48 423.41h0M360.28 423.71h0M361.09 423.22h0M361.89 422.86h0M362.69 423.97h0M363.49 424.21h0M364.3 425.18h0M365.1 424.49h0M365.9 423.89h0M366.71 424.12h0M367.51 424.76h0M368.31 424.64h0M369.11 425.46h0M369.92 425.73h0M370.72 425.87h0M371.52 426.03h0M372.33 425.57h0M373.13 425.66h0M373.93 426.06h0M374.73 426.14h0M375.54 426.25h0M376.34 426.38h0M377.14 426.42h0M377.95 426.28h0M378.75 426.09h0M379.55 425.97h0M380.35 426.78h0M381.16 426.14h0M381.96 426.06h0M382.76 425.88h0M383.56 425.91h0M384.37 425.62h0M385.17 426.66h0M385.97 426.6h0M386.78 427.07h0M387.58 427.11h0M388.38 426.31h0M389.18 426.23h0M389.99 425.32h0M390.79 424.47h0M391.59 424.59h0M392.4 424.8h0M393.2 423.58h0M394 422.78h0M394.8 423.1h0M395.61 421.83h0M396.41 422.55h0M397.21 422.92h0M398.02 423.06h0M398.82 422.29h0M399.62 421.97h0M400.42 422.64h0M401.23 422.25h0M402.03 422.92h0M402.83 423.12h0M403.63 423.05h0M404.44 423.18h0M405.24 423.11h0M406.04 423.4h0M406.85 423.07h0M407.65 420.88h0M408.45 421.35h0M409.25 420.93h0M410.06 420.92h0M410.86 420.57h0M411.66 419.87h0M412.47 420.26h0M413.27 419.45h0M414.07 419.77h0M414.87 419.11h0M415.68 419.44h0M416.48 419.36h0M417.28 419.37h0M418.09 419.47h0M418.89 420.3h0M419.69 419.53h0M420.49 418.8h0M421.3 418.72h0M422.1 418.99h0M422.9 419.37h0M423.7 419.19h0M424.51 418.52h0M425.31 419.15h0M426.11 418.63h0M426.92 417.83h0M427.72 417.66h0M428.52 417.29h0M429.32 417.63h0M430.13 417.02h0M430.93 417.15h0M431.73 417.26h0M432.54 416.6h0M433.34 415.76h0M434.14 415.47h0M434.94 415.58h0M435.75 415.77h0M436.55 416.07h0M437.35 415.63h0M438.16 415.41h0M438.96 415.56h0M439.76 414.01h0M440.56 413.8h0M441.37 414.15h0M442.17 412.71h0M442.97 413.3h0M443.77 413.09h0M444.58 414.12h0M445.38 414.49h0M446.18 413.89h0M446.99 413.83h0M447.79 413.7h0M448.59 413.02h0M449.39 413.82h0M450.2 414.64h0M451 414.07h0" stroke="#e6882a" stroke-width="3.8" stroke-linecap="round" fill="none"/>
<path d="M50.4 427.6L51.6 429.8L52.8 433.0L54.0 434.3L55.2 437.8L56.4 439.2L57.6 441.2L58.8 443.9L60.0 446.3L61.2 449.7L62.4 452.3L63.6 453.6L64.9 455.9L66.1 458.1L67.3 457.5L68.5 458.4L69.7 460.1L70.9 460.6L72.1 460.6L73.3 460.8L74.5 460.9L75.7 461.2L76.9 462.5L78.1 462.3L79.3 463.5L80.5 463.6L81.7 462.9L82.9 462.5L84.1 462.7L85.3 462.8L86.5 463.2L87.7 462.8L88.9 463.3L90.1 463.0L91.3 463.7L92.5 463.6L93.8 463.1L95.0 463.9L96.2 462.5L97.4 462.6L98.6 463.4L99.8 461.6L101.0 461.2L102.2 460.8L103.4 461.1L104.6 459.7L105.8 458.9L107.0 457.8L108.2 457.4L109.4 456.4L110.6 456.0L111.8 454.0L113.0 453.9L114.2 452.0L115.4 451.4L116.6 450.4L117.8 449.7L119.0 449.2L120.2 450.3L121.5 452.1L122.7 453.6L123.9 453.3L125.1 452.6L126.3 453.3L127.5 453.7L128.7 451.5L129.9 450.3L131.1 448.8L132.3 446.9L133.5 447.2L134.7 448.0L135.9 449.9L137.1 450.2L138.3 450.7L139.5 451.3L140.7 452.3L141.9 453.5L143.1 451.9L144.3 451.8L145.5 450.9L146.7 450.9L147.9 451.0L149.1 450.8L150.4 449.1L151.6 449.3L152.8 450.3L154.0 451.2L155.2 451.5L156.4 452.3L157.6 451.6L158.8 450.1L160.0 448.7L161.2 447.6L162.4 446.9L163.6 447.3L164.8 446.9L166.0 445.9L167.2 445.6L168.4 445.3L169.6 445.7L170.8 445.9L172.0 445.8L173.2 445.9L174.4 447.1L175.6 446.5L176.8 445.3L178.0 444.0L179.3 444.2L180.5 444.0L181.7 441.8L182.9 441.8L184.1 442.2L185.3 442.6L186.5 442.8L187.7 441.5L188.9 441.5L190.1 441.4L191.3 440.2L192.5 441.4L193.7 440.4L194.9 440.5L196.1 439.0L197.3 438.8L198.5 439.0L199.7 437.1L200.9 438.0L202.1 437.5L203.3 438.2L204.5 437.4L205.7 436.4L206.9 435.4L208.2 434.9L209.4 435.5L210.6 435.6L211.8 434.1L213.0 434.0L214.2 433.7L215.4 434.0L216.6 434.6L217.8 433.7L219.0 433.3L220.2 432.4L221.4 433.3L222.6 433.1L223.8 431.4L225.0 430.0L226.2 430.9L227.4 431.4L228.6 430.8L229.8 431.1L231.0 431.0L232.2 430.3L233.4 431.0L234.6 431.2L235.8 431.2L237.1 430.3L238.3 431.2L239.5 430.6L240.7 429.9L241.9 429.7L243.1 429.8L244.3 429.9L245.5 429.2L246.7 428.7L247.9 428.3L249.1 428.0L250.3 427.4L251.5 428.0L252.7 427.2L253.9 428.4L255.1 428.6L256.3 428.1L257.5 427.4L258.7 427.9L259.9 428.0L261.1 426.6L262.3 427.0L263.5 425.7L264.8 425.0L266.0 424.4L267.2 424.8L268.4 424.3L269.6 424.5L270.8 424.7L272.0 424.5L273.2 423.8L274.4 422.7L275.6 423.3L276.8 423.1L278.0 423.3L279.2 424.4L280.4 425.7L281.6 424.6L282.8 423.1L284.0 423.9L285.2 423.6L286.4 421.9L287.6 422.3L288.8 421.8L290.0 421.6L291.2 421.1L292.4 422.7L293.7 423.0L294.9 423.3L296.1 423.5L297.3 423.6L298.5 423.9L299.7 423.8L300.9 423.3L302.1 422.2L303.3 421.9L304.5 421.4L305.7 422.5L306.9 423.8L308.1 424.7L309.3 424.3L310.5 423.6L311.7 423.5L312.9 424.0L314.1 423.5L315.3 423.3L316.5 423.8L317.7 422.8L318.9 423.9L320.1 425.2L321.3 424.8L322.6 423.7L323.8 422.8L325.0 422.5L326.2 424.0L327.4 426.0L328.6 427.2L329.8 429.0L331.0 428.7L332.2 430.0L333.4 430.0L334.6 429.0L335.8 428.4L337.0 428.2L338.2 426.6L339.4 426.9L340.6 427.2L341.8 426.6L343.0 427.1L344.2 426.9L345.4 427.1L346.6 427.8L347.8 426.4L349.0 425.2L350.2 424.6L351.5 424.0L352.7 423.7L353.9 423.4L355.1 423.5L356.3 422.5L357.5 421.8L358.7 422.4L359.9 422.9L361.1 422.7L362.3 422.4L363.5 423.9L364.7 424.0L365.9 423.4L367.1 423.2L368.3 424.1L369.5 425.3L370.7 425.5L371.9 424.8L373.1 424.6L374.3 425.5L375.5 425.5L376.7 425.0L377.9 425.8L379.1 426.3L380.4 425.9L381.6 425.8L382.8 424.8L384.0 424.9L385.2 425.3L386.4 425.7L387.6 426.8L388.8 425.2L390.0 425.1L391.2 424.5L392.4 424.1L393.6 422.1L394.8 421.9L396.0 421.3L397.2 421.7L398.4 421.6L399.6 421.5L400.8 421.2L402.0 422.1L403.2 422.6L404.4 422.3L405.6 422.2L406.8 422.1L408.1 420.7L409.3 420.5L410.5 420.4L411.7 419.3L412.9 419.3L414.1 419.2L415.3 418.0L416.5 418.9L417.7 418.7L418.9 419.4L420.1 418.2L421.3 418.1L422.5 418.7L423.7 417.9L424.9 417.8L426.1 417.7L427.3 416.9L428.5 416.8L429.7 416.2L430.9 416.7L432.1 416.5L433.3 414.2L434.5 414.7L435.7 415.5L437.0 415.1L438.2 415.0L439.4 414.3L440.6 412.9L441.8 411.8L443.0 412.6L444.2 412.4L445.4 413.8L446.6 413.3L447.8 413.2L449.0 412.3L450.2 413.5" fill="none" stroke="#473c9a" stroke-width="3.8" stroke-linejoin="round"/>
<path d="M50.4 427.4h0M51.21 429.48h0M52.01 429.8h0M52.81 433.15h0M53.61 432.74h0M54.42 436.09h0M55.22 437.2h0M56.02 438.27h0M56.83 439.95h0M57.63 441.79h0M58.43 443.13h0M59.23 444.23h0M60.04 446.16h0M60.84 448.64h0M61.64 450.16h0M62.44 452.4h0M63.25 453.09h0M64.05 452.83h0M64.85 455.23h0M65.66 457.61h0M66.46 458.2h0M67.26 457.74h0M68.06 457.97h0M68.87 458.2h0M69.67 459.44h0M70.47 461.02h0M71.28 460.54h0M72.08 461.09h0M72.88 460.99h0M73.68 460.48h0M74.49 461.35h0M75.29 460.89h0M76.09 462.14h0M76.9 462.73h0M77.7 462.46h0M78.5 462.46h0M79.3 462.86h0M80.11 463.01h0M80.91 463.48h0M81.71 463.37h0M82.51 462.85h0M83.32 463.3h0M84.12 463.29h0M84.92 463.59h0M85.73 463.35h0M86.53 463.39h0M87.33 463.94h0M88.13 462.14h0M88.94 463.04h0M89.74 462.61h0M90.54 462.67h0M91.35 464.15h0M92.15 462.69h0M92.95 463.59h0M93.75 462.58h0M94.56 463.69h0M95.36 463.5h0M96.16 463.02h0M96.97 461.67h0M97.77 462.93h0M98.57 462.86h0M99.37 462.57h0M100.18 460.63h0M100.98 460.69h0M101.78 460.97h0M102.58 460.52h0M103.39 461.22h0M104.19 460.86h0M104.99 460.43h0M105.8 459.39h0M106.6 457.51h0M107.4 458.6h0M108.2 457.94h0M109.01 457.16h0M109.81 456.55h0M110.61 455.67h0M111.42 454.5h0M112.22 454.03h0M113.02 454.1h0M113.82 453.73h0M114.63 452.04h0M115.43 451.07h0M116.23 449.59h0M117.04 449.95h0M117.84 450.31h0M118.64 449.05h0M119.44 450.19h0M120.25 450.34h0M121.05 451.8h0M121.85 453.91h0M122.65 453.67h0M123.46 453.17h0M124.26 453.32h0M125.06 453.26h0M125.87 453.84h0M126.67 454.72h0M127.47 453.26h0M128.27 453.41h0M129.08 450.94h0M129.88 451.01h0M130.68 449.26h0M131.49 447.84h0M132.29 447.26h0M133.09 446.52h0M133.89 448.13h0M134.7 447.68h0M135.5 449.65h0M136.3 450.66h0M137.11 450.46h0M137.91 450.01h0M138.71 450.31h0M139.51 450.76h0M140.32 451.84h0M141.12 453.1h0M141.92 453.87h0M142.72 451.8h0M143.53 451.94h0M144.33 451.75h0M145.13 450.71h0M145.94 450.46h0M146.74 450.27h0M147.54 450.3h0M148.34 451.58h0M149.15 450.47h0M149.95 449.02h0M150.75 448.16h0M151.56 449.39h0M152.36 449.57h0M153.16 450.22h0M153.96 451h0M154.77 451.05h0M155.57 451.38h0M156.37 452.84h0M157.18 452.29h0M157.98 451.15h0M158.78 450.47h0M159.58 449.15h0M160.39 447.94h0M161.19 448.04h0M161.99 447.32h0M162.79 446.86h0M163.6 446.96h0M164.4 447.31h0M165.2 445.83h0M166.01 445.28h0M166.81 446.8h0M167.61 444.85h0M168.41 444.75h0M169.22 446.16h0M170.02 444.91h0M170.82 445.42h0M171.63 446.5h0M172.43 444.82h0M173.23 445.88h0M174.03 446.84h0M174.84 446.32h0M175.64 446.6h0M176.44 446.96h0M177.25 444.87h0M178.05 444.06h0M178.85 443.91h0M179.65 443.12h0M180.46 443.69h0M181.26 441.95h0M182.06 440.94h0M182.86 441.55h0M183.67 441.7h0M184.47 441.15h0M185.27 442.53h0M186.08 441.89h0M186.88 442.2h0M187.68 441.48h0M188.48 441.71h0M189.29 440.83h0M190.09 441.65h0M190.89 440.79h0M191.7 440.72h0M192.5 441.2h0M193.3 440.13h0M194.1 440.89h0M194.91 439.91h0M195.71 438.76h0M196.51 438.71h0M197.32 439.14h0M198.12 439.4h0M198.92 438.7h0M199.72 437.73h0M200.53 438.17h0M201.33 437.93h0M202.13 438.16h0M202.93 437.95h0M203.74 437.92h0M204.54 437.3h0M205.34 437.03h0M206.15 436.22h0M206.95 435.61h0M207.75 434.73h0M208.55 435.65h0M209.36 435.65h0M210.16 435.46h0M210.96 435.03h0M211.77 433.72h0M212.57 434.52h0M213.37 433.62h0M214.17 433.85h0M214.98 433.03h0M215.78 434.29h0M216.58 434.49h0M217.39 434.17h0M218.19 435.01h0M218.99 433.02h0M219.79 431.97h0M220.6 432.98h0M221.4 432.6h0M222.2 431.93h0M223 433.53h0M223.81 431.44h0M224.61 430.13h0M225.41 430.26h0M226.22 430.53h0M227.02 430.52h0M227.82 431.12h0M228.62 430.35h0M229.43 431.45h0M230.23 431h0M231.03 430.65h0M231.84 430.21h0M232.64 430.47h0M233.44 431.31h0M234.24 431.05h0M235.05 431.64h0M235.85 431.18h0M236.65 431.07h0M237.46 430.18h0M238.26 431.59h0M239.06 430.96h0M239.86 429.26h0M240.67 430.57h0M241.47 428.72h0M242.27 428.57h0M243.07 430.16h0M243.88 429.72h0M244.68 429.15h0M245.48 428.68h0M246.29 429.06h0M247.09 428.52h0M247.89 428.41h0M248.69 428.51h0M249.5 426.97h0M250.3 426.7h0M251.1 427.13h0M251.91 428.24h0M252.71 427.71h0M253.51 427.91h0M254.31 428.58h0M255.12 428.93h0M255.92 427.62h0M256.72 427.95h0M257.53 427.88h0M258.33 427.29h0M259.13 427.55h0M259.93 427.66h0M260.74 426.86h0M261.54 426.88h0M262.34 426.65h0M263.14 426.58h0M263.95 424.25h0M264.75 425.58h0M265.55 424.32h0M266.36 424.25h0M267.16 424.7h0M267.96 424.8h0M268.76 423.8h0M269.57 423.9h0M270.37 424.67h0M271.17 425.38h0M271.98 424.3h0M272.78 423.97h0M273.58 423.76h0M274.38 422.22h0M275.19 423.03h0M275.99 423.36h0M276.79 423.55h0M277.6 423.89h0M278.4 423.95h0M279.2 424.77h0M280 424.29h0M280.81 425.45h0M281.61 424.15h0M282.41 423.42h0M283.21 422.77h0M284.02 423.79h0M284.82 424.43h0M285.62 423.61h0M286.43 421.56h0M287.23 422.4h0M288.03 422.17h0M288.83 421.56h0M289.64 421.3h0M290.44 421.13h0M291.24 421.59h0M292.05 423.37h0M292.85 422.13h0M293.65 423.28h0M294.45 423.15h0M295.26 422.62h0M296.06 422.97h0M296.86 423.66h0M297.67 422.86h0M298.47 423.88h0M299.27 422.88h0M300.07 423.98h0M300.88 422.75h0M301.68 422.49h0M302.48 421.97h0M303.28 421.54h0M304.09 422.03h0M304.89 422.37h0M305.69 422.43h0M306.5 424.12h0M307.3 423.6h0M308.1 424.93h0M308.9 423.46h0M309.71 424.44h0M310.51 423.59h0M311.31 423.63h0M312.12 424.18h0M312.92 423.89h0M313.72 423.31h0M314.52 423.82h0M315.33 423.02h0M316.13 423.55h0M316.93 422.57h0M317.74 422.86h0M318.54 422.83h0M319.34 425.34h0M320.14 425h0M320.95 424.16h0M321.75 424.44h0M322.55 424.07h0M323.35 424.53h0M324.16 423h0M324.96 422.2h0M325.76 423.23h0M326.57 423.54h0M327.37 426.64h0M328.17 427.19h0M328.97 427.77h0M329.78 428.95h0M330.58 427.85h0M331.38 429.04h0M332.19 430.32h0M332.99 429.89h0M333.79 429.14h0M334.59 429.14h0M335.4 428.83h0M336.2 428.76h0M337 427.98h0M337.81 427.56h0M338.61 426.38h0M339.41 426.68h0M340.21 426.19h0M341.02 427.42h0M341.82 426.79h0M342.62 426.91h0M343.42 427.39h0M344.23 427.58h0M345.03 427.15h0M345.83 427.5h0M346.64 427.64h0M347.44 426.32h0M348.24 425.89h0M349.04 424.94h0M349.85 424.59h0M350.65 424.33h0M351.45 424.31h0M352.26 423.17h0M353.06 424.4h0M353.86 423.31h0M354.66 423.7h0M355.47 423.39h0M356.27 422.28h0M357.07 421.55h0M357.88 421.34h0M358.68 422.01h0M359.48 421.78h0M360.28 422.46h0M361.09 422.58h0M361.89 422.86h0M362.69 422.88h0M363.49 423.86h0M364.3 424.41h0M365.1 424.46h0M365.9 422.83h0M366.71 423.73h0M367.51 423.33h0M368.31 424.67h0M369.11 424.43h0M369.92 424.74h0M370.72 425.77h0M371.52 425.71h0M372.33 424.92h0M373.13 424.95h0M373.93 425.04h0M374.73 425.94h0M375.54 425.29h0M376.34 425.79h0M377.14 425.02h0M377.95 426.48h0M378.75 425.48h0M379.55 426.32h0M380.35 425.57h0M381.16 425.78h0M381.96 425.76h0M382.76 425.01h0M383.56 425.44h0M384.37 424.33h0M385.17 424.88h0M385.97 426.04h0M386.78 426.47h0M387.58 427.35h0M388.38 424.84h0M389.18 425.97h0M389.99 425.77h0M390.79 424.94h0M391.59 423.54h0M392.4 424.54h0M393.2 423.1h0M394 421.83h0M394.8 421.95h0M395.61 420.61h0M396.41 421.14h0M397.21 422.02h0M398.02 421.72h0M398.82 420.8h0M399.62 422.1h0M400.42 421.78h0M401.23 422.03h0M402.03 422.39h0M402.83 423.22h0M403.63 422.07h0M404.44 422.2h0M405.24 421.42h0M406.04 422.82h0M406.85 422h0M407.65 421.12h0M408.45 421.28h0M409.25 420.12h0M410.06 419.85h0M410.86 419.97h0M411.66 418.95h0M412.47 418.81h0M413.27 418.61h0M414.07 419.13h0M414.87 419.01h0M415.68 418.64h0M416.48 418.48h0M417.28 418.43h0M418.09 417.98h0M418.89 420.02h0M419.69 418.29h0M420.49 417.53h0M421.3 417.92h0M422.1 418.02h0M422.9 417.4h0M423.7 418.22h0M424.51 417.95h0M425.31 418.49h0M426.11 417.42h0M426.92 417.43h0M427.72 417.59h0M428.52 416.61h0M429.32 417.27h0M430.13 416.78h0M430.93 417.37h0M431.73 416.33h0M432.54 414.62h0M433.34 414.61h0M434.14 413.9h0M434.94 415.16h0M435.75 416.07h0M436.55 415.1h0M437.35 415.32h0M438.16 414.78h0M438.96 414.37h0M439.76 413.19h0M440.56 412.75h0M441.37 413.4h0M442.17 411.6h0M442.97 413.06h0M443.77 412.24h0M444.58 412.31h0M445.38 414.2h0M446.18 413.1h0M446.99 412.56h0M447.79 413.5h0M448.59 413.23h0M449.39 413.36h0M450.2 414.07h0M451 412.67h0" stroke="#473c9a" stroke-width="4.1" stroke-linecap="round" fill="none"/>
<path d="M50.4 427.4h0M53.21 432.48h0M56.02 438.27h0M58.83 443.5h0M61.64 450.16h0M64.45 454.99h0M67.26 457.74h0M70.07 459.65h0M72.88 460.99h0M75.69 460.79h0M78.5 462.46h0M81.31 462.46h0M84.12 463.29h0M86.93 463.09h0M89.74 462.61h0M92.55 463.8h0M95.36 463.5h0M98.17 463.58h0M100.98 460.69h0M103.79 460.94h0M106.6 457.51h0M109.41 456.36h0M112.22 454.03h0M115.03 451.76h0M117.84 450.31h0M120.65 449.56h0M123.46 453.17h0M126.27 453.56h0M129.08 450.94h0M131.89 447.57h0M134.7 447.68h0M137.51 450.53h0M140.32 451.84h0M143.13 451.67h0M145.94 450.46h0M148.75 451.11h0M151.56 449.39h0M154.37 451.7h0M157.18 452.29h0M159.99 448.69h0M162.79 446.86h0M165.6 446.65h0M168.41 444.75h0M171.22 445.92h0M174.03 446.84h0M176.84 445.8h0M179.65 443.12h0M182.46 441.68h0M185.27 442.53h0M188.08 441.45h0M190.89 440.79h0M193.7 440h0M196.51 438.71h0M199.32 437.27h0M202.13 438.16h0M204.94 436.63h0M207.75 434.73h0M210.56 435.73h0M213.37 433.62h0M216.18 435.28h0M218.99 433.02h0M221.8 432.43h0M224.61 430.13h0M227.42 431.8h0M230.23 431h0M233.04 429.76h0M235.85 431.18h0M238.66 430.79h0M241.47 428.72h0M244.28 429.49h0M247.09 428.52h0M249.9 427.41h0M252.71 427.71h0M255.52 428.35h0M258.33 427.29h0M261.14 426.13h0M263.95 424.25h0M266.76 423.78h0M269.57 423.9h0M272.38 424.17h0M275.19 423.03h0M278 422.84h0M280.81 425.45h0M283.62 423.07h0M286.43 421.56h0M289.24 421.78h0M292.05 423.37h0M294.86 422.69h0M297.67 422.86h0M300.48 424.46h0M303.28 421.54h0M306.09 423.58h0M308.9 423.46h0M311.71 422.93h0M314.52 423.82h0M317.33 422.19h0M320.14 425h0M322.95 424.6h0M325.76 423.23h0M328.57 426.95h0M331.38 429.04h0M334.19 429.57h0M337 427.98h0M339.81 426.75h0M342.62 426.91h0M345.43 427.54h0M348.24 425.89h0M351.05 425.02h0M353.86 423.31h0M356.67 422.32h0M359.48 421.78h0M362.29 422.18h0M365.1 424.46h0M367.91 423.15h0M370.72 425.77h0M373.53 424.97h0M376.34 425.79h0M379.15 426.55h0M381.96 425.76h0M384.77 424.69h0M387.58 427.35h0M390.39 425.12h0M393.2 423.1h0M396.01 420.57h0M398.82 420.8h0M401.63 422.19h0M404.44 422.2h0M407.25 422.11h0M410.06 419.85h0M412.87 419.03h0M415.68 418.64h0M418.49 419.69h0M421.3 417.92h0M424.11 417.89h0M426.92 417.43h0M429.73 416.31h0M432.54 414.62h0M435.35 415.13h0M438.16 414.78h0M440.97 412.61h0M443.77 412.24h0M446.58 412.66h0M449.39 413.36h0" stroke="#6d63bb" stroke-width="1.6" stroke-linecap="round" fill="none"/>
<path d="M50 400.4h0" stroke="#3e3294" stroke-width="3.2" stroke-linecap="round" fill="none"/>
<path d="M67.1 461.8h0M82.8 467.2h0" stroke="#3e3294" stroke-width="3.2" stroke-linecap="round" fill="none"/>
<rect x="49.6" y="371.6" width="401.4" height="147.6" fill="none" stroke="#1e1e1e" stroke-width="1.3"/>
<path d="M49.6 519.2L49.6 522.7M69.67 519.2L69.67 521.2M89.74 519.2L89.74 522.7M109.81 519.2L109.81 521.2M129.88 519.2L129.88 522.7M149.95 519.2L149.95 521.2M170.02 519.2L170.02 522.7M190.09 519.2L190.09 521.2M210.16 519.2L210.16 522.7M230.23 519.2L230.23 521.2M250.3 519.2L250.3 522.7M270.37 519.2L270.37 521.2M290.44 519.2L290.44 522.7M310.51 519.2L310.51 521.2M330.58 519.2L330.58 522.7M350.65 519.2L350.65 521.2M370.72 519.2L370.72 522.7M390.79 519.2L390.79 521.2M410.86 519.2L410.86 522.7M430.93 519.2L430.93 521.2M451 519.2L451 522.7M49.6 519.2L46.6 519.2M49.6 511L46.6 511M49.6 502.8L46.6 502.8M49.6 494.6L46.6 494.6M49.6 486.4L46.6 486.4M49.6 478.2L46.6 478.2M49.6 470L46.6 470M49.6 461.8L46.6 461.8M49.6 453.6L46.6 453.6M49.6 445.4L46.6 445.4M49.6 437.2L46.6 437.2M49.6 429L46.6 429M49.6 420.8L46.6 420.8M49.6 412.6L46.6 412.6M49.6 404.4L46.6 404.4M49.6 396.2L46.6 396.2M49.6 388L46.6 388M49.6 379.8L46.6 379.8M49.6 371.6L46.6 371.6M451 519.2L454 519.2M451 492.36L454 492.36M451 465.53L454 465.53M451 438.69L454 438.69M451 411.85L454 411.85M451 385.02L454 385.02" stroke="#1e1e1e" stroke-width="1.1" fill="none"/>
<text x="49.6" y="531.6" font-size="7.6" text-anchor="middle" fill="#1c1c1c" stroke="#1c1c1c" stroke-width="0.18" >0</text>
<text x="89.74" y="531.6" font-size="7.6" text-anchor="middle" fill="#1c1c1c" stroke="#1c1c1c" stroke-width="0.18" >100</text>
<text x="129.88" y="531.6" font-size="7.6" text-anchor="middle" fill="#1c1c1c" stroke="#1c1c1c" stroke-width="0.18" >200</text>
<text x="170.02" y="531.6" font-size="7.6" text-anchor="middle" fill="#1c1c1c" stroke="#1c1c1c" stroke-width="0.18" >300</text>
<text x="210.16" y="531.6" font-size="7.6" text-anchor="middle" fill="#1c1c1c" stroke="#1c1c1c" stroke-width="0.18" >400</text>
<text x="250.3" y="531.6" font-size="7.6" text-anchor="middle" fill="#1c1c1c" stroke="#1c1c1c" stroke-width="0.18" >500</text>
<text x="290.44" y="531.6" font-size="7.6" text-anchor="middle" fill="#1c1c1c" stroke="#1c1c1c" stroke-width="0.18" >600</text>
<text x="330.58" y="531.6" font-size="7.6" text-anchor="middle" fill="#1c1c1c" stroke="#1c1c1c" stroke-width="0.18" >700</text>
<text x="370.72" y="531.6" font-size="7.6" text-anchor="middle" fill="#1c1c1c" stroke="#1c1c1c" stroke-width="0.18" >800</text>
<text x="410.86" y="531.6" font-size="7.6" text-anchor="middle" fill="#1c1c1c" stroke="#1c1c1c" stroke-width="0.18" >900</text>
<text x="451" y="531.6" font-size="7.6" text-anchor="middle" fill="#1c1c1c" stroke="#1c1c1c" stroke-width="0.18" >1000</text>
<text x="42.8" y="522.8" font-size="7.6" text-anchor="end" fill="#1c1c1c" stroke="#1c1c1c" stroke-width="0.18" >0</text>
<text x="42.8" y="506.4" font-size="7.6" text-anchor="end" fill="#1c1c1c" stroke="#1c1c1c" stroke-width="0.18" >200</text>
<text x="42.8" y="490" font-size="7.6" text-anchor="end" fill="#1c1c1c" stroke="#1c1c1c" stroke-width="0.18" >400</text>
<text x="42.8" y="473.6" font-size="7.6" text-anchor="end" fill="#1c1c1c" stroke="#1c1c1c" stroke-width="0.18" >600</text>
<text x="42.8" y="457.2" font-size="7.6" text-anchor="end" fill="#1c1c1c" stroke="#1c1c1c" stroke-width="0.18" >800</text>
<text x="42.8" y="440.8" font-size="7.6" text-anchor="end" fill="#1c1c1c" stroke="#1c1c1c" stroke-width="0.18" >1000</text>
<text x="42.8" y="424.4" font-size="7.6" text-anchor="end" fill="#1c1c1c" stroke="#1c1c1c" stroke-width="0.18" >1200</text>
<text x="42.8" y="408" font-size="7.6" text-anchor="end" fill="#1c1c1c" stroke="#1c1c1c" stroke-width="0.18" >1400</text>
<text x="42.8" y="391.6" font-size="7.6" text-anchor="end" fill="#1c1c1c" stroke="#1c1c1c" stroke-width="0.18" >1600</text>
<text x="42.8" y="375.2" font-size="7.6" text-anchor="end" fill="#1c1c1c" stroke="#1c1c1c" stroke-width="0.18" >1800</text>
<text x="459.3" y="522.8" font-size="7.6" text-anchor="start" fill="#1c1c1c" stroke="#1c1c1c" stroke-width="0.18" >0</text>
<text x="459.3" y="495.96" font-size="7.6" text-anchor="start" fill="#1c1c1c" stroke="#1c1c1c" stroke-width="0.18" >20</text>
<text x="459.3" y="469.13" font-size="7.6" text-anchor="start" fill="#1c1c1c" stroke="#1c1c1c" stroke-width="0.18" >40</text>
<text x="459.3" y="442.29" font-size="7.6" text-anchor="start" fill="#1c1c1c" stroke="#1c1c1c" stroke-width="0.18" >60</text>
<text x="459.3" y="415.45" font-size="7.6" text-anchor="start" fill="#1c1c1c" stroke="#1c1c1c" stroke-width="0.18" >80</text>
<text x="459.3" y="388.62" font-size="7.6" text-anchor="start" fill="#1c1c1c" stroke="#1c1c1c" stroke-width="0.18" >100</text>
<text x="250.2" y="546.8" font-size="9.6" text-anchor="middle" fill="#1c1c1c" stroke="#1c1c1c" stroke-width="0.18" >Cycle number</text>
<text x="0" y="0" font-size="9.6" text-anchor="middle" fill="#1c1c1c" stroke="#1c1c1c" stroke-width="0.18" transform="translate(23.2 443.6) rotate(-90)">Specific capacity (mAh g<tspan dy="-3" font-size="0.7em">&#8722;1</tspan><tspan dy="3">)</tspan></text>
<text x="0" y="0" font-size="9.6" text-anchor="middle" fill="#1c1c1c" stroke="#1c1c1c" stroke-width="0.18" transform="translate(480.4 448.9) rotate(-90)">Coulombic efficiency (%)</text>
<path d="M85 402h0" stroke="#3e3294" stroke-width="3.2" stroke-linecap="round" fill="none"/>
<path d="M85 413.8h0" stroke="#e07a20" stroke-width="3.2" stroke-linecap="round" fill="none"/>
<text x="93.8" y="405" font-size="8.7" text-anchor="start" fill="#1c1c1c" stroke="#1c1c1c" stroke-width="0.18" >Si@MnO<tspan dy="2.2" font-size="5.8">2</tspan><tspan dy="-2.2">@rGO-50&#176;C discharge</tspan></text>
<text x="93.8" y="416.2" font-size="8.7" text-anchor="start" fill="#1c1c1c" stroke="#1c1c1c" stroke-width="0.18" >Si@MnO<tspan dy="2.2" font-size="5.8">2</tspan><tspan dy="-2.2">@rGO-50&#176;C charge</tspan></text>
<text x="190.3" y="482.8" font-size="8.5" text-anchor="start" fill="#1c1c1c" stroke="#1c1c1c" stroke-width="0.18" word-spacing="1.2">Current density: 1 A g<tspan dx="0.8" dy="-3" font-size="0.7em">&#8722;1</tspan></text>
<path d="M409.9 388.5V403.6H443.5" stroke="#1e1e1e" stroke-width="1" fill="none"/>
<path d="M448.8 403.6L442.8 401.8L442.8 405.4Z" fill="#1e1e1e"/>
</svg></body></html>
